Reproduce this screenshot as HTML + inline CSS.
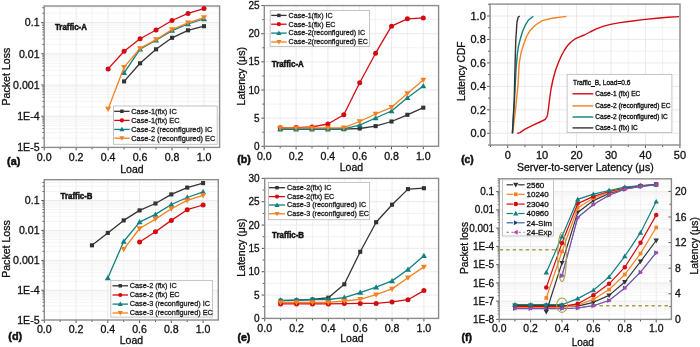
<!DOCTYPE html>
<html><head><meta charset="utf-8"><style>
html,body{margin:0;padding:0;background:#fff;}
svg{display:block;font-family:"Liberation Sans", sans-serif;will-change:transform;}
</style></head><body>
<svg width="700" height="347" viewBox="0 0 700 347">
<rect width="700" height="347" fill="#fff"/>
<line x1="60.18" y1="6.00" x2="60.18" y2="147.40" stroke="#efefef" stroke-width="0.8"/>
<line x1="76.16" y1="6.00" x2="76.16" y2="147.40" stroke="#e4e4e4" stroke-width="0.8"/>
<line x1="92.14" y1="6.00" x2="92.14" y2="147.40" stroke="#efefef" stroke-width="0.8"/>
<line x1="108.12" y1="6.00" x2="108.12" y2="147.40" stroke="#e4e4e4" stroke-width="0.8"/>
<line x1="124.10" y1="6.00" x2="124.10" y2="147.40" stroke="#efefef" stroke-width="0.8"/>
<line x1="140.08" y1="6.00" x2="140.08" y2="147.40" stroke="#e4e4e4" stroke-width="0.8"/>
<line x1="156.06" y1="6.00" x2="156.06" y2="147.40" stroke="#efefef" stroke-width="0.8"/>
<line x1="172.04" y1="6.00" x2="172.04" y2="147.40" stroke="#e4e4e4" stroke-width="0.8"/>
<line x1="188.02" y1="6.00" x2="188.02" y2="147.40" stroke="#efefef" stroke-width="0.8"/>
<line x1="204.00" y1="6.00" x2="204.00" y2="147.40" stroke="#e4e4e4" stroke-width="0.8"/>
<line x1="44.20" y1="138.01" x2="219.60" y2="138.01" stroke="#f1f1f1" stroke-width="0.8"/>
<line x1="44.20" y1="132.51" x2="219.60" y2="132.51" stroke="#f1f1f1" stroke-width="0.8"/>
<line x1="44.20" y1="128.62" x2="219.60" y2="128.62" stroke="#f1f1f1" stroke-width="0.8"/>
<line x1="44.20" y1="125.59" x2="219.60" y2="125.59" stroke="#f1f1f1" stroke-width="0.8"/>
<line x1="44.20" y1="123.12" x2="219.60" y2="123.12" stroke="#f1f1f1" stroke-width="0.8"/>
<line x1="44.20" y1="121.03" x2="219.60" y2="121.03" stroke="#f1f1f1" stroke-width="0.8"/>
<line x1="44.20" y1="119.22" x2="219.60" y2="119.22" stroke="#f1f1f1" stroke-width="0.8"/>
<line x1="44.20" y1="117.63" x2="219.60" y2="117.63" stroke="#f1f1f1" stroke-width="0.8"/>
<line x1="44.20" y1="116.20" x2="219.60" y2="116.20" stroke="#e4e4e4" stroke-width="0.8"/>
<line x1="44.20" y1="106.81" x2="219.60" y2="106.81" stroke="#f1f1f1" stroke-width="0.8"/>
<line x1="44.20" y1="101.31" x2="219.60" y2="101.31" stroke="#f1f1f1" stroke-width="0.8"/>
<line x1="44.20" y1="97.42" x2="219.60" y2="97.42" stroke="#f1f1f1" stroke-width="0.8"/>
<line x1="44.20" y1="94.39" x2="219.60" y2="94.39" stroke="#f1f1f1" stroke-width="0.8"/>
<line x1="44.20" y1="91.92" x2="219.60" y2="91.92" stroke="#f1f1f1" stroke-width="0.8"/>
<line x1="44.20" y1="89.83" x2="219.60" y2="89.83" stroke="#f1f1f1" stroke-width="0.8"/>
<line x1="44.20" y1="88.02" x2="219.60" y2="88.02" stroke="#f1f1f1" stroke-width="0.8"/>
<line x1="44.20" y1="86.43" x2="219.60" y2="86.43" stroke="#f1f1f1" stroke-width="0.8"/>
<line x1="44.20" y1="85.00" x2="219.60" y2="85.00" stroke="#e4e4e4" stroke-width="0.8"/>
<line x1="44.20" y1="75.61" x2="219.60" y2="75.61" stroke="#f1f1f1" stroke-width="0.8"/>
<line x1="44.20" y1="70.11" x2="219.60" y2="70.11" stroke="#f1f1f1" stroke-width="0.8"/>
<line x1="44.20" y1="66.22" x2="219.60" y2="66.22" stroke="#f1f1f1" stroke-width="0.8"/>
<line x1="44.20" y1="63.19" x2="219.60" y2="63.19" stroke="#f1f1f1" stroke-width="0.8"/>
<line x1="44.20" y1="60.72" x2="219.60" y2="60.72" stroke="#f1f1f1" stroke-width="0.8"/>
<line x1="44.20" y1="58.63" x2="219.60" y2="58.63" stroke="#f1f1f1" stroke-width="0.8"/>
<line x1="44.20" y1="56.82" x2="219.60" y2="56.82" stroke="#f1f1f1" stroke-width="0.8"/>
<line x1="44.20" y1="55.23" x2="219.60" y2="55.23" stroke="#f1f1f1" stroke-width="0.8"/>
<line x1="44.20" y1="53.80" x2="219.60" y2="53.80" stroke="#e4e4e4" stroke-width="0.8"/>
<line x1="44.20" y1="44.41" x2="219.60" y2="44.41" stroke="#f1f1f1" stroke-width="0.8"/>
<line x1="44.20" y1="38.91" x2="219.60" y2="38.91" stroke="#f1f1f1" stroke-width="0.8"/>
<line x1="44.20" y1="35.02" x2="219.60" y2="35.02" stroke="#f1f1f1" stroke-width="0.8"/>
<line x1="44.20" y1="31.99" x2="219.60" y2="31.99" stroke="#f1f1f1" stroke-width="0.8"/>
<line x1="44.20" y1="29.52" x2="219.60" y2="29.52" stroke="#f1f1f1" stroke-width="0.8"/>
<line x1="44.20" y1="27.43" x2="219.60" y2="27.43" stroke="#f1f1f1" stroke-width="0.8"/>
<line x1="44.20" y1="25.62" x2="219.60" y2="25.62" stroke="#f1f1f1" stroke-width="0.8"/>
<line x1="44.20" y1="24.03" x2="219.60" y2="24.03" stroke="#f1f1f1" stroke-width="0.8"/>
<line x1="44.20" y1="22.60" x2="219.60" y2="22.60" stroke="#e4e4e4" stroke-width="0.8"/>
<line x1="44.20" y1="13.21" x2="219.60" y2="13.21" stroke="#f1f1f1" stroke-width="0.8"/>
<line x1="44.20" y1="7.71" x2="219.60" y2="7.71" stroke="#f1f1f1" stroke-width="0.8"/>
<line x1="44.20" y1="147.40" x2="44.20" y2="150.40" stroke="#555555" stroke-width="1"/>
<line x1="60.18" y1="147.40" x2="60.18" y2="149.40" stroke="#555555" stroke-width="1"/>
<line x1="76.16" y1="147.40" x2="76.16" y2="150.40" stroke="#555555" stroke-width="1"/>
<line x1="92.14" y1="147.40" x2="92.14" y2="149.40" stroke="#555555" stroke-width="1"/>
<line x1="108.12" y1="147.40" x2="108.12" y2="150.40" stroke="#555555" stroke-width="1"/>
<line x1="124.10" y1="147.40" x2="124.10" y2="149.40" stroke="#555555" stroke-width="1"/>
<line x1="140.08" y1="147.40" x2="140.08" y2="150.40" stroke="#555555" stroke-width="1"/>
<line x1="156.06" y1="147.40" x2="156.06" y2="149.40" stroke="#555555" stroke-width="1"/>
<line x1="172.04" y1="147.40" x2="172.04" y2="150.40" stroke="#555555" stroke-width="1"/>
<line x1="188.02" y1="147.40" x2="188.02" y2="149.40" stroke="#555555" stroke-width="1"/>
<line x1="204.00" y1="147.40" x2="204.00" y2="150.40" stroke="#555555" stroke-width="1"/>
<line x1="41.20" y1="147.40" x2="44.20" y2="147.40" stroke="#555555" stroke-width="1"/>
<line x1="42.40" y1="138.01" x2="44.20" y2="138.01" stroke="#555555" stroke-width="1"/>
<line x1="42.40" y1="132.51" x2="44.20" y2="132.51" stroke="#555555" stroke-width="1"/>
<line x1="42.40" y1="128.62" x2="44.20" y2="128.62" stroke="#555555" stroke-width="1"/>
<line x1="42.40" y1="125.59" x2="44.20" y2="125.59" stroke="#555555" stroke-width="1"/>
<line x1="42.40" y1="123.12" x2="44.20" y2="123.12" stroke="#555555" stroke-width="1"/>
<line x1="42.40" y1="121.03" x2="44.20" y2="121.03" stroke="#555555" stroke-width="1"/>
<line x1="42.40" y1="119.22" x2="44.20" y2="119.22" stroke="#555555" stroke-width="1"/>
<line x1="42.40" y1="117.63" x2="44.20" y2="117.63" stroke="#555555" stroke-width="1"/>
<line x1="41.20" y1="116.20" x2="44.20" y2="116.20" stroke="#555555" stroke-width="1"/>
<line x1="42.40" y1="106.81" x2="44.20" y2="106.81" stroke="#555555" stroke-width="1"/>
<line x1="42.40" y1="101.31" x2="44.20" y2="101.31" stroke="#555555" stroke-width="1"/>
<line x1="42.40" y1="97.42" x2="44.20" y2="97.42" stroke="#555555" stroke-width="1"/>
<line x1="42.40" y1="94.39" x2="44.20" y2="94.39" stroke="#555555" stroke-width="1"/>
<line x1="42.40" y1="91.92" x2="44.20" y2="91.92" stroke="#555555" stroke-width="1"/>
<line x1="42.40" y1="89.83" x2="44.20" y2="89.83" stroke="#555555" stroke-width="1"/>
<line x1="42.40" y1="88.02" x2="44.20" y2="88.02" stroke="#555555" stroke-width="1"/>
<line x1="42.40" y1="86.43" x2="44.20" y2="86.43" stroke="#555555" stroke-width="1"/>
<line x1="41.20" y1="85.00" x2="44.20" y2="85.00" stroke="#555555" stroke-width="1"/>
<line x1="42.40" y1="75.61" x2="44.20" y2="75.61" stroke="#555555" stroke-width="1"/>
<line x1="42.40" y1="70.11" x2="44.20" y2="70.11" stroke="#555555" stroke-width="1"/>
<line x1="42.40" y1="66.22" x2="44.20" y2="66.22" stroke="#555555" stroke-width="1"/>
<line x1="42.40" y1="63.19" x2="44.20" y2="63.19" stroke="#555555" stroke-width="1"/>
<line x1="42.40" y1="60.72" x2="44.20" y2="60.72" stroke="#555555" stroke-width="1"/>
<line x1="42.40" y1="58.63" x2="44.20" y2="58.63" stroke="#555555" stroke-width="1"/>
<line x1="42.40" y1="56.82" x2="44.20" y2="56.82" stroke="#555555" stroke-width="1"/>
<line x1="42.40" y1="55.23" x2="44.20" y2="55.23" stroke="#555555" stroke-width="1"/>
<line x1="41.20" y1="53.80" x2="44.20" y2="53.80" stroke="#555555" stroke-width="1"/>
<line x1="42.40" y1="44.41" x2="44.20" y2="44.41" stroke="#555555" stroke-width="1"/>
<line x1="42.40" y1="38.91" x2="44.20" y2="38.91" stroke="#555555" stroke-width="1"/>
<line x1="42.40" y1="35.02" x2="44.20" y2="35.02" stroke="#555555" stroke-width="1"/>
<line x1="42.40" y1="31.99" x2="44.20" y2="31.99" stroke="#555555" stroke-width="1"/>
<line x1="42.40" y1="29.52" x2="44.20" y2="29.52" stroke="#555555" stroke-width="1"/>
<line x1="42.40" y1="27.43" x2="44.20" y2="27.43" stroke="#555555" stroke-width="1"/>
<line x1="42.40" y1="25.62" x2="44.20" y2="25.62" stroke="#555555" stroke-width="1"/>
<line x1="42.40" y1="24.03" x2="44.20" y2="24.03" stroke="#555555" stroke-width="1"/>
<line x1="41.20" y1="22.60" x2="44.20" y2="22.60" stroke="#555555" stroke-width="1"/>
<line x1="42.40" y1="13.21" x2="44.20" y2="13.21" stroke="#555555" stroke-width="1"/>
<line x1="42.40" y1="7.71" x2="44.20" y2="7.71" stroke="#555555" stroke-width="1"/>
<rect x="44.20" y="6.00" width="175.40" height="141.40" fill="none" stroke="#8c8c8c" stroke-width="1.4"/>
<text x="39.60" y="151.20" font-size="10.6" text-anchor="end" font-weight="normal" fill="#111" stroke="#111" stroke-width="0.3">1E-5</text>
<text x="39.60" y="120.00" font-size="10.6" text-anchor="end" font-weight="normal" fill="#111" stroke="#111" stroke-width="0.3">1E-4</text>
<text x="39.60" y="88.80" font-size="10.6" text-anchor="end" font-weight="normal" fill="#111" stroke="#111" stroke-width="0.3">0.001</text>
<text x="39.60" y="57.60" font-size="10.6" text-anchor="end" font-weight="normal" fill="#111" stroke="#111" stroke-width="0.3">0.01</text>
<text x="39.60" y="26.40" font-size="10.6" text-anchor="end" font-weight="normal" fill="#111" stroke="#111" stroke-width="0.3">0.1</text>
<text x="44.20" y="160.90" font-size="10.6" text-anchor="middle" font-weight="normal" fill="#111" stroke="#111" stroke-width="0.3">0.0</text>
<text x="76.16" y="160.90" font-size="10.6" text-anchor="middle" font-weight="normal" fill="#111" stroke="#111" stroke-width="0.3">0.2</text>
<text x="108.12" y="160.90" font-size="10.6" text-anchor="middle" font-weight="normal" fill="#111" stroke="#111" stroke-width="0.3">0.4</text>
<text x="140.08" y="160.90" font-size="10.6" text-anchor="middle" font-weight="normal" fill="#111" stroke="#111" stroke-width="0.3">0.6</text>
<text x="172.04" y="160.90" font-size="10.6" text-anchor="middle" font-weight="normal" fill="#111" stroke="#111" stroke-width="0.3">0.8</text>
<text x="204.00" y="160.90" font-size="10.6" text-anchor="middle" font-weight="normal" fill="#111" stroke="#111" stroke-width="0.3">1.0</text>
<text x="9.60" y="76.60" font-size="10.6" text-anchor="middle" font-weight="normal" fill="#111" stroke="#111" stroke-width="0.3" transform="rotate(-90 9.6 76.6)">Packet Loss</text>
<text x="131.90" y="172.80" font-size="10.5" text-anchor="middle" font-weight="normal" fill="#111" stroke="#111" stroke-width="0.3">Load</text>
<text x="13.70" y="165.40" font-size="10.8" text-anchor="middle" font-weight="bold" fill="#111" stroke="#111" stroke-width="0.5">(a)</text>
<text x="55.00" y="29.60" font-size="8.9" text-anchor="start" font-weight="bold" fill="#111" stroke="#111" stroke-width="0.5" transform="translate(55.0 29.6) scale(0.885 1) translate(-55.0 -29.6)">Traffic-A</text>
<polyline points="124.10,81.40 140.08,63.30 156.06,49.30 172.04,37.80 188.02,30.30 204.00,26.20" fill="none" stroke="#333333" stroke-width="1.3" stroke-linejoin="round"/>
<rect x="122.05" y="79.35" width="4.10" height="4.10" fill="#333333"/>
<rect x="138.03" y="61.25" width="4.10" height="4.10" fill="#333333"/>
<rect x="154.01" y="47.25" width="4.10" height="4.10" fill="#333333"/>
<rect x="169.99" y="35.75" width="4.10" height="4.10" fill="#333333"/>
<rect x="185.97" y="28.25" width="4.10" height="4.10" fill="#333333"/>
<rect x="201.95" y="24.15" width="4.10" height="4.10" fill="#333333"/>
<polyline points="108.12,68.90 124.10,51.30 140.08,38.80 156.06,30.00 172.04,20.50 188.02,13.40 204.00,8.60" fill="none" stroke="#d40a12" stroke-width="1.3" stroke-linejoin="round"/>
<circle cx="108.12" cy="68.90" r="2.50" fill="#d40a12"/>
<circle cx="124.10" cy="51.30" r="2.50" fill="#d40a12"/>
<circle cx="140.08" cy="38.80" r="2.50" fill="#d40a12"/>
<circle cx="156.06" cy="30.00" r="2.50" fill="#d40a12"/>
<circle cx="172.04" cy="20.50" r="2.50" fill="#d40a12"/>
<circle cx="188.02" cy="13.40" r="2.50" fill="#d40a12"/>
<circle cx="204.00" cy="8.60" r="2.50" fill="#d40a12"/>
<polyline points="124.10,72.80 140.08,49.20 156.06,40.30 172.04,30.60 188.02,24.00 204.00,19.00" fill="none" stroke="#0f7f80" stroke-width="1.3" stroke-linejoin="round"/>
<path d="M124.10 69.80L127.10 75.05L121.10 75.05Z" fill="#0f7f80"/>
<path d="M140.08 46.20L143.08 51.45L137.08 51.45Z" fill="#0f7f80"/>
<path d="M156.06 37.30L159.06 42.55L153.06 42.55Z" fill="#0f7f80"/>
<path d="M172.04 27.60L175.04 32.85L169.04 32.85Z" fill="#0f7f80"/>
<path d="M188.02 21.00L191.02 26.25L185.02 26.25Z" fill="#0f7f80"/>
<path d="M204.00 16.00L207.00 21.25L201.00 21.25Z" fill="#0f7f80"/>
<polyline points="108.12,109.00 124.10,67.20 140.08,48.40 156.06,39.60 172.04,29.50 188.02,22.80 204.00,17.60" fill="none" stroke="#f5801f" stroke-width="1.3" stroke-linejoin="round"/>
<path d="M108.12 112.00L111.12 106.75L105.12 106.75Z" fill="#f5801f"/>
<path d="M124.10 70.20L127.10 64.95L121.10 64.95Z" fill="#f5801f"/>
<path d="M140.08 51.40L143.08 46.15L137.08 46.15Z" fill="#f5801f"/>
<path d="M156.06 42.60L159.06 37.35L153.06 37.35Z" fill="#f5801f"/>
<path d="M172.04 32.50L175.04 27.25L169.04 27.25Z" fill="#f5801f"/>
<path d="M188.02 25.80L191.02 20.55L185.02 20.55Z" fill="#f5801f"/>
<path d="M204.00 20.60L207.00 15.35L201.00 15.35Z" fill="#f5801f"/>
<rect x="113.50" y="106.00" width="103.70" height="38.30" fill="#fff" stroke="#bdbdbd" stroke-width="0.9"/>
<line x1="114.20" y1="111.30" x2="129.60" y2="111.30" stroke="#333333" stroke-width="1.3"/>
<rect x="120.16" y="109.56" width="3.48" height="3.48" fill="#333333"/>
<text x="131.20" y="113.71" font-size="7.844000000000001" text-anchor="start" font-weight="normal" fill="#1a1a1a" stroke="#1a1a1a" stroke-width="0.3" transform="translate(131.2 113.714) scale(0.943 1) translate(-131.2 -113.714)">Case-1(fix) IC</text>
<line x1="114.20" y1="120.40" x2="129.60" y2="120.40" stroke="#d40a12" stroke-width="1.3"/>
<circle cx="121.90" cy="120.40" r="2.12" fill="#d40a12"/>
<text x="131.20" y="122.81" font-size="7.844000000000001" text-anchor="start" font-weight="normal" fill="#1a1a1a" stroke="#1a1a1a" stroke-width="0.3" transform="translate(131.2 122.81400000000001) scale(0.943 1) translate(-131.2 -122.81400000000001)">Case-1(fix) EC</text>
<line x1="114.20" y1="129.40" x2="129.60" y2="129.40" stroke="#0f7f80" stroke-width="1.3"/>
<path d="M121.90 126.85L124.45 131.31L119.35 131.31Z" fill="#0f7f80"/>
<text x="131.20" y="131.81" font-size="7.844000000000001" text-anchor="start" font-weight="normal" fill="#1a1a1a" stroke="#1a1a1a" stroke-width="0.3" transform="translate(131.2 131.814) scale(0.943 1) translate(-131.2 -131.814)">Case-2 (reconfigured) IC</text>
<line x1="114.20" y1="138.20" x2="129.60" y2="138.20" stroke="#f5801f" stroke-width="1.3"/>
<path d="M121.90 140.75L124.45 136.29L119.35 136.29Z" fill="#f5801f"/>
<text x="131.20" y="140.61" font-size="7.844000000000001" text-anchor="start" font-weight="normal" fill="#1a1a1a" stroke="#1a1a1a" stroke-width="0.3" transform="translate(131.2 140.61399999999998) scale(0.943 1) translate(-131.2 -140.61399999999998)">Case-2 (reconfigured) EC</text>
<line x1="60.18" y1="179.70" x2="60.18" y2="320.00" stroke="#efefef" stroke-width="0.8"/>
<line x1="76.06" y1="179.70" x2="76.06" y2="320.00" stroke="#e4e4e4" stroke-width="0.8"/>
<line x1="91.94" y1="179.70" x2="91.94" y2="320.00" stroke="#efefef" stroke-width="0.8"/>
<line x1="107.82" y1="179.70" x2="107.82" y2="320.00" stroke="#e4e4e4" stroke-width="0.8"/>
<line x1="123.70" y1="179.70" x2="123.70" y2="320.00" stroke="#efefef" stroke-width="0.8"/>
<line x1="139.58" y1="179.70" x2="139.58" y2="320.00" stroke="#e4e4e4" stroke-width="0.8"/>
<line x1="155.46" y1="179.70" x2="155.46" y2="320.00" stroke="#efefef" stroke-width="0.8"/>
<line x1="171.34" y1="179.70" x2="171.34" y2="320.00" stroke="#e4e4e4" stroke-width="0.8"/>
<line x1="187.22" y1="179.70" x2="187.22" y2="320.00" stroke="#efefef" stroke-width="0.8"/>
<line x1="203.10" y1="179.70" x2="203.10" y2="320.00" stroke="#e4e4e4" stroke-width="0.8"/>
<line x1="44.30" y1="311.21" x2="218.30" y2="311.21" stroke="#f1f1f1" stroke-width="0.8"/>
<line x1="44.30" y1="305.94" x2="218.30" y2="305.94" stroke="#f1f1f1" stroke-width="0.8"/>
<line x1="44.30" y1="302.20" x2="218.30" y2="302.20" stroke="#f1f1f1" stroke-width="0.8"/>
<line x1="44.30" y1="299.30" x2="218.30" y2="299.30" stroke="#f1f1f1" stroke-width="0.8"/>
<line x1="44.30" y1="296.93" x2="218.30" y2="296.93" stroke="#f1f1f1" stroke-width="0.8"/>
<line x1="44.30" y1="294.93" x2="218.30" y2="294.93" stroke="#f1f1f1" stroke-width="0.8"/>
<line x1="44.30" y1="293.19" x2="218.30" y2="293.19" stroke="#f1f1f1" stroke-width="0.8"/>
<line x1="44.30" y1="291.66" x2="218.30" y2="291.66" stroke="#f1f1f1" stroke-width="0.8"/>
<line x1="44.30" y1="290.29" x2="218.30" y2="290.29" stroke="#e4e4e4" stroke-width="0.8"/>
<line x1="44.30" y1="281.28" x2="218.30" y2="281.28" stroke="#f1f1f1" stroke-width="0.8"/>
<line x1="44.30" y1="276.01" x2="218.30" y2="276.01" stroke="#f1f1f1" stroke-width="0.8"/>
<line x1="44.30" y1="272.27" x2="218.30" y2="272.27" stroke="#f1f1f1" stroke-width="0.8"/>
<line x1="44.30" y1="269.37" x2="218.30" y2="269.37" stroke="#f1f1f1" stroke-width="0.8"/>
<line x1="44.30" y1="267.00" x2="218.30" y2="267.00" stroke="#f1f1f1" stroke-width="0.8"/>
<line x1="44.30" y1="265.00" x2="218.30" y2="265.00" stroke="#f1f1f1" stroke-width="0.8"/>
<line x1="44.30" y1="263.26" x2="218.30" y2="263.26" stroke="#f1f1f1" stroke-width="0.8"/>
<line x1="44.30" y1="261.73" x2="218.30" y2="261.73" stroke="#f1f1f1" stroke-width="0.8"/>
<line x1="44.30" y1="260.36" x2="218.30" y2="260.36" stroke="#e4e4e4" stroke-width="0.8"/>
<line x1="44.30" y1="251.35" x2="218.30" y2="251.35" stroke="#f1f1f1" stroke-width="0.8"/>
<line x1="44.30" y1="246.08" x2="218.30" y2="246.08" stroke="#f1f1f1" stroke-width="0.8"/>
<line x1="44.30" y1="242.34" x2="218.30" y2="242.34" stroke="#f1f1f1" stroke-width="0.8"/>
<line x1="44.30" y1="239.44" x2="218.30" y2="239.44" stroke="#f1f1f1" stroke-width="0.8"/>
<line x1="44.30" y1="237.07" x2="218.30" y2="237.07" stroke="#f1f1f1" stroke-width="0.8"/>
<line x1="44.30" y1="235.07" x2="218.30" y2="235.07" stroke="#f1f1f1" stroke-width="0.8"/>
<line x1="44.30" y1="233.33" x2="218.30" y2="233.33" stroke="#f1f1f1" stroke-width="0.8"/>
<line x1="44.30" y1="231.80" x2="218.30" y2="231.80" stroke="#f1f1f1" stroke-width="0.8"/>
<line x1="44.30" y1="230.43" x2="218.30" y2="230.43" stroke="#e4e4e4" stroke-width="0.8"/>
<line x1="44.30" y1="221.42" x2="218.30" y2="221.42" stroke="#f1f1f1" stroke-width="0.8"/>
<line x1="44.30" y1="216.15" x2="218.30" y2="216.15" stroke="#f1f1f1" stroke-width="0.8"/>
<line x1="44.30" y1="212.41" x2="218.30" y2="212.41" stroke="#f1f1f1" stroke-width="0.8"/>
<line x1="44.30" y1="209.51" x2="218.30" y2="209.51" stroke="#f1f1f1" stroke-width="0.8"/>
<line x1="44.30" y1="207.14" x2="218.30" y2="207.14" stroke="#f1f1f1" stroke-width="0.8"/>
<line x1="44.30" y1="205.14" x2="218.30" y2="205.14" stroke="#f1f1f1" stroke-width="0.8"/>
<line x1="44.30" y1="203.40" x2="218.30" y2="203.40" stroke="#f1f1f1" stroke-width="0.8"/>
<line x1="44.30" y1="201.87" x2="218.30" y2="201.87" stroke="#f1f1f1" stroke-width="0.8"/>
<line x1="44.30" y1="200.50" x2="218.30" y2="200.50" stroke="#e4e4e4" stroke-width="0.8"/>
<line x1="44.30" y1="191.49" x2="218.30" y2="191.49" stroke="#f1f1f1" stroke-width="0.8"/>
<line x1="44.30" y1="186.22" x2="218.30" y2="186.22" stroke="#f1f1f1" stroke-width="0.8"/>
<line x1="44.30" y1="182.48" x2="218.30" y2="182.48" stroke="#f1f1f1" stroke-width="0.8"/>
<line x1="44.30" y1="320.00" x2="44.30" y2="323.00" stroke="#555555" stroke-width="1"/>
<line x1="60.18" y1="320.00" x2="60.18" y2="322.00" stroke="#555555" stroke-width="1"/>
<line x1="76.06" y1="320.00" x2="76.06" y2="323.00" stroke="#555555" stroke-width="1"/>
<line x1="91.94" y1="320.00" x2="91.94" y2="322.00" stroke="#555555" stroke-width="1"/>
<line x1="107.82" y1="320.00" x2="107.82" y2="323.00" stroke="#555555" stroke-width="1"/>
<line x1="123.70" y1="320.00" x2="123.70" y2="322.00" stroke="#555555" stroke-width="1"/>
<line x1="139.58" y1="320.00" x2="139.58" y2="323.00" stroke="#555555" stroke-width="1"/>
<line x1="155.46" y1="320.00" x2="155.46" y2="322.00" stroke="#555555" stroke-width="1"/>
<line x1="171.34" y1="320.00" x2="171.34" y2="323.00" stroke="#555555" stroke-width="1"/>
<line x1="187.22" y1="320.00" x2="187.22" y2="322.00" stroke="#555555" stroke-width="1"/>
<line x1="203.10" y1="320.00" x2="203.10" y2="323.00" stroke="#555555" stroke-width="1"/>
<line x1="41.30" y1="320.22" x2="44.30" y2="320.22" stroke="#555555" stroke-width="1"/>
<line x1="42.50" y1="311.21" x2="44.30" y2="311.21" stroke="#555555" stroke-width="1"/>
<line x1="42.50" y1="305.94" x2="44.30" y2="305.94" stroke="#555555" stroke-width="1"/>
<line x1="42.50" y1="302.20" x2="44.30" y2="302.20" stroke="#555555" stroke-width="1"/>
<line x1="42.50" y1="299.30" x2="44.30" y2="299.30" stroke="#555555" stroke-width="1"/>
<line x1="42.50" y1="296.93" x2="44.30" y2="296.93" stroke="#555555" stroke-width="1"/>
<line x1="42.50" y1="294.93" x2="44.30" y2="294.93" stroke="#555555" stroke-width="1"/>
<line x1="42.50" y1="293.19" x2="44.30" y2="293.19" stroke="#555555" stroke-width="1"/>
<line x1="42.50" y1="291.66" x2="44.30" y2="291.66" stroke="#555555" stroke-width="1"/>
<line x1="41.30" y1="290.29" x2="44.30" y2="290.29" stroke="#555555" stroke-width="1"/>
<line x1="42.50" y1="281.28" x2="44.30" y2="281.28" stroke="#555555" stroke-width="1"/>
<line x1="42.50" y1="276.01" x2="44.30" y2="276.01" stroke="#555555" stroke-width="1"/>
<line x1="42.50" y1="272.27" x2="44.30" y2="272.27" stroke="#555555" stroke-width="1"/>
<line x1="42.50" y1="269.37" x2="44.30" y2="269.37" stroke="#555555" stroke-width="1"/>
<line x1="42.50" y1="267.00" x2="44.30" y2="267.00" stroke="#555555" stroke-width="1"/>
<line x1="42.50" y1="265.00" x2="44.30" y2="265.00" stroke="#555555" stroke-width="1"/>
<line x1="42.50" y1="263.26" x2="44.30" y2="263.26" stroke="#555555" stroke-width="1"/>
<line x1="42.50" y1="261.73" x2="44.30" y2="261.73" stroke="#555555" stroke-width="1"/>
<line x1="41.30" y1="260.36" x2="44.30" y2="260.36" stroke="#555555" stroke-width="1"/>
<line x1="42.50" y1="251.35" x2="44.30" y2="251.35" stroke="#555555" stroke-width="1"/>
<line x1="42.50" y1="246.08" x2="44.30" y2="246.08" stroke="#555555" stroke-width="1"/>
<line x1="42.50" y1="242.34" x2="44.30" y2="242.34" stroke="#555555" stroke-width="1"/>
<line x1="42.50" y1="239.44" x2="44.30" y2="239.44" stroke="#555555" stroke-width="1"/>
<line x1="42.50" y1="237.07" x2="44.30" y2="237.07" stroke="#555555" stroke-width="1"/>
<line x1="42.50" y1="235.07" x2="44.30" y2="235.07" stroke="#555555" stroke-width="1"/>
<line x1="42.50" y1="233.33" x2="44.30" y2="233.33" stroke="#555555" stroke-width="1"/>
<line x1="42.50" y1="231.80" x2="44.30" y2="231.80" stroke="#555555" stroke-width="1"/>
<line x1="41.30" y1="230.43" x2="44.30" y2="230.43" stroke="#555555" stroke-width="1"/>
<line x1="42.50" y1="221.42" x2="44.30" y2="221.42" stroke="#555555" stroke-width="1"/>
<line x1="42.50" y1="216.15" x2="44.30" y2="216.15" stroke="#555555" stroke-width="1"/>
<line x1="42.50" y1="212.41" x2="44.30" y2="212.41" stroke="#555555" stroke-width="1"/>
<line x1="42.50" y1="209.51" x2="44.30" y2="209.51" stroke="#555555" stroke-width="1"/>
<line x1="42.50" y1="207.14" x2="44.30" y2="207.14" stroke="#555555" stroke-width="1"/>
<line x1="42.50" y1="205.14" x2="44.30" y2="205.14" stroke="#555555" stroke-width="1"/>
<line x1="42.50" y1="203.40" x2="44.30" y2="203.40" stroke="#555555" stroke-width="1"/>
<line x1="42.50" y1="201.87" x2="44.30" y2="201.87" stroke="#555555" stroke-width="1"/>
<line x1="41.30" y1="200.50" x2="44.30" y2="200.50" stroke="#555555" stroke-width="1"/>
<line x1="42.50" y1="191.49" x2="44.30" y2="191.49" stroke="#555555" stroke-width="1"/>
<line x1="42.50" y1="186.22" x2="44.30" y2="186.22" stroke="#555555" stroke-width="1"/>
<line x1="42.50" y1="182.48" x2="44.30" y2="182.48" stroke="#555555" stroke-width="1"/>
<rect x="44.30" y="179.70" width="174.00" height="140.30" fill="none" stroke="#8c8c8c" stroke-width="1.4"/>
<text x="39.60" y="324.02" font-size="10.6" text-anchor="end" font-weight="normal" fill="#111" stroke="#111" stroke-width="0.3">1E-5</text>
<text x="39.60" y="294.09" font-size="10.6" text-anchor="end" font-weight="normal" fill="#111" stroke="#111" stroke-width="0.3">1E-4</text>
<text x="39.60" y="264.16" font-size="10.6" text-anchor="end" font-weight="normal" fill="#111" stroke="#111" stroke-width="0.3">0.001</text>
<text x="39.60" y="234.23" font-size="10.6" text-anchor="end" font-weight="normal" fill="#111" stroke="#111" stroke-width="0.3">0.01</text>
<text x="39.60" y="204.30" font-size="10.6" text-anchor="end" font-weight="normal" fill="#111" stroke="#111" stroke-width="0.3">0.1</text>
<text x="44.30" y="332.90" font-size="10.6" text-anchor="middle" font-weight="normal" fill="#111" stroke="#111" stroke-width="0.3">0.0</text>
<text x="76.06" y="332.90" font-size="10.6" text-anchor="middle" font-weight="normal" fill="#111" stroke="#111" stroke-width="0.3">0.2</text>
<text x="107.82" y="332.90" font-size="10.6" text-anchor="middle" font-weight="normal" fill="#111" stroke="#111" stroke-width="0.3">0.4</text>
<text x="139.58" y="332.90" font-size="10.6" text-anchor="middle" font-weight="normal" fill="#111" stroke="#111" stroke-width="0.3">0.6</text>
<text x="171.34" y="332.90" font-size="10.6" text-anchor="middle" font-weight="normal" fill="#111" stroke="#111" stroke-width="0.3">0.8</text>
<text x="203.10" y="332.90" font-size="10.6" text-anchor="middle" font-weight="normal" fill="#111" stroke="#111" stroke-width="0.3">1.0</text>
<text x="9.60" y="249.00" font-size="10.6" text-anchor="middle" font-weight="normal" fill="#111" stroke="#111" stroke-width="0.3" transform="rotate(-90 9.6 249.0)">Packet Loss</text>
<text x="131.40" y="344.40" font-size="10.5" text-anchor="middle" font-weight="normal" fill="#111" stroke="#111" stroke-width="0.3">Load</text>
<text x="15.30" y="340.10" font-size="11.6" text-anchor="middle" font-weight="bold" fill="#111" stroke="#111" stroke-width="0.5" transform="translate(15.3 340.1) scale(0.94 1) translate(-15.3 -340.1)">(d)</text>
<text x="60.60" y="198.70" font-size="8.9" text-anchor="start" font-weight="bold" fill="#111" stroke="#111" stroke-width="0.5" transform="translate(60.6 198.7) scale(0.885 1) translate(-60.6 -198.7)">Traffic-B</text>
<polyline points="91.94,245.30 107.82,232.90 123.70,220.40 139.58,210.40 155.46,203.50 171.34,194.40 187.22,187.60 203.10,183.10" fill="none" stroke="#333333" stroke-width="1.3" stroke-linejoin="round"/>
<rect x="89.89" y="243.25" width="4.10" height="4.10" fill="#333333"/>
<rect x="105.77" y="230.85" width="4.10" height="4.10" fill="#333333"/>
<rect x="121.65" y="218.35" width="4.10" height="4.10" fill="#333333"/>
<rect x="137.53" y="208.35" width="4.10" height="4.10" fill="#333333"/>
<rect x="153.41" y="201.45" width="4.10" height="4.10" fill="#333333"/>
<rect x="169.29" y="192.35" width="4.10" height="4.10" fill="#333333"/>
<rect x="185.17" y="185.55" width="4.10" height="4.10" fill="#333333"/>
<rect x="201.05" y="181.05" width="4.10" height="4.10" fill="#333333"/>
<polyline points="139.58,242.00 155.46,231.80 171.34,220.40 187.22,209.70 203.10,205.00" fill="none" stroke="#d40a12" stroke-width="1.3" stroke-linejoin="round"/>
<circle cx="139.58" cy="242.00" r="2.50" fill="#d40a12"/>
<circle cx="155.46" cy="231.80" r="2.50" fill="#d40a12"/>
<circle cx="171.34" cy="220.40" r="2.50" fill="#d40a12"/>
<circle cx="187.22" cy="209.70" r="2.50" fill="#d40a12"/>
<circle cx="203.10" cy="205.00" r="2.50" fill="#d40a12"/>
<polyline points="107.82,277.90 123.70,241.50 139.58,222.10 155.46,214.40 171.34,204.50 187.22,197.50 203.10,191.90" fill="none" stroke="#0f7f80" stroke-width="1.3" stroke-linejoin="round"/>
<path d="M107.82 274.90L110.82 280.15L104.82 280.15Z" fill="#0f7f80"/>
<path d="M123.70 238.50L126.70 243.75L120.70 243.75Z" fill="#0f7f80"/>
<path d="M139.58 219.10L142.58 224.35L136.58 224.35Z" fill="#0f7f80"/>
<path d="M155.46 211.40L158.46 216.65L152.46 216.65Z" fill="#0f7f80"/>
<path d="M171.34 201.50L174.34 206.75L168.34 206.75Z" fill="#0f7f80"/>
<path d="M187.22 194.50L190.22 199.75L184.22 199.75Z" fill="#0f7f80"/>
<path d="M203.10 188.90L206.10 194.15L200.10 194.15Z" fill="#0f7f80"/>
<polyline points="123.70,249.30 139.58,228.50 155.46,219.10 171.34,208.80 187.22,200.40 203.10,195.30" fill="none" stroke="#f5801f" stroke-width="1.3" stroke-linejoin="round"/>
<path d="M123.70 252.30L126.70 247.05L120.70 247.05Z" fill="#f5801f"/>
<path d="M139.58 231.50L142.58 226.25L136.58 226.25Z" fill="#f5801f"/>
<path d="M155.46 222.10L158.46 216.85L152.46 216.85Z" fill="#f5801f"/>
<path d="M171.34 211.80L174.34 206.55L168.34 206.55Z" fill="#f5801f"/>
<path d="M187.22 203.40L190.22 198.15L184.22 198.15Z" fill="#f5801f"/>
<path d="M203.10 198.30L206.10 193.05L200.10 193.05Z" fill="#f5801f"/>
<rect x="110.80" y="280.40" width="101.60" height="36.70" fill="#fff" stroke="#bdbdbd" stroke-width="0.9"/>
<line x1="112.50" y1="285.80" x2="128.00" y2="285.80" stroke="#333333" stroke-width="1.3"/>
<rect x="118.51" y="284.06" width="3.48" height="3.48" fill="#333333"/>
<text x="129.70" y="288.18" font-size="7.738" text-anchor="start" font-weight="normal" fill="#1a1a1a" stroke="#1a1a1a" stroke-width="0.3" transform="translate(129.7 288.178) scale(0.943 1) translate(-129.7 -288.178)">Case-2 (fix) IC</text>
<line x1="112.50" y1="295.00" x2="128.00" y2="295.00" stroke="#d40a12" stroke-width="1.3"/>
<circle cx="120.25" cy="295.00" r="2.12" fill="#d40a12"/>
<text x="129.70" y="297.38" font-size="7.738" text-anchor="start" font-weight="normal" fill="#1a1a1a" stroke="#1a1a1a" stroke-width="0.3" transform="translate(129.7 297.378) scale(0.943 1) translate(-129.7 -297.378)">Case-2 (fix) EC</text>
<line x1="112.50" y1="304.10" x2="128.00" y2="304.10" stroke="#0f7f80" stroke-width="1.3"/>
<path d="M120.25 301.55L122.80 306.01L117.70 306.01Z" fill="#0f7f80"/>
<text x="129.70" y="306.48" font-size="7.738" text-anchor="start" font-weight="normal" fill="#1a1a1a" stroke="#1a1a1a" stroke-width="0.3" transform="translate(129.7 306.478) scale(0.943 1) translate(-129.7 -306.478)">Case-3 (reconfigured) IC</text>
<line x1="112.50" y1="313.00" x2="128.00" y2="313.00" stroke="#f5801f" stroke-width="1.3"/>
<path d="M120.25 315.55L122.80 311.09L117.70 311.09Z" fill="#f5801f"/>
<text x="129.70" y="315.38" font-size="7.738" text-anchor="start" font-weight="normal" fill="#1a1a1a" stroke="#1a1a1a" stroke-width="0.3" transform="translate(129.7 315.378) scale(0.943 1) translate(-129.7 -315.378)">Case-3 (reconfigured) EC</text>
<line x1="280.20" y1="5.60" x2="280.20" y2="146.30" stroke="#efefef" stroke-width="0.8"/>
<line x1="296.10" y1="5.60" x2="296.10" y2="146.30" stroke="#e4e4e4" stroke-width="0.8"/>
<line x1="312.00" y1="5.60" x2="312.00" y2="146.30" stroke="#efefef" stroke-width="0.8"/>
<line x1="327.90" y1="5.60" x2="327.90" y2="146.30" stroke="#e4e4e4" stroke-width="0.8"/>
<line x1="343.80" y1="5.60" x2="343.80" y2="146.30" stroke="#efefef" stroke-width="0.8"/>
<line x1="359.70" y1="5.60" x2="359.70" y2="146.30" stroke="#e4e4e4" stroke-width="0.8"/>
<line x1="375.60" y1="5.60" x2="375.60" y2="146.30" stroke="#efefef" stroke-width="0.8"/>
<line x1="391.50" y1="5.60" x2="391.50" y2="146.30" stroke="#e4e4e4" stroke-width="0.8"/>
<line x1="407.40" y1="5.60" x2="407.40" y2="146.30" stroke="#efefef" stroke-width="0.8"/>
<line x1="423.30" y1="5.60" x2="423.30" y2="146.30" stroke="#e4e4e4" stroke-width="0.8"/>
<line x1="264.30" y1="132.23" x2="438.60" y2="132.23" stroke="#efefef" stroke-width="0.8"/>
<line x1="264.30" y1="118.16" x2="438.60" y2="118.16" stroke="#e4e4e4" stroke-width="0.8"/>
<line x1="264.30" y1="104.09" x2="438.60" y2="104.09" stroke="#efefef" stroke-width="0.8"/>
<line x1="264.30" y1="90.02" x2="438.60" y2="90.02" stroke="#e4e4e4" stroke-width="0.8"/>
<line x1="264.30" y1="75.95" x2="438.60" y2="75.95" stroke="#efefef" stroke-width="0.8"/>
<line x1="264.30" y1="61.88" x2="438.60" y2="61.88" stroke="#e4e4e4" stroke-width="0.8"/>
<line x1="264.30" y1="47.81" x2="438.60" y2="47.81" stroke="#efefef" stroke-width="0.8"/>
<line x1="264.30" y1="33.74" x2="438.60" y2="33.74" stroke="#e4e4e4" stroke-width="0.8"/>
<line x1="264.30" y1="19.67" x2="438.60" y2="19.67" stroke="#efefef" stroke-width="0.8"/>
<line x1="264.30" y1="146.30" x2="264.30" y2="149.30" stroke="#555555" stroke-width="1"/>
<line x1="280.20" y1="146.30" x2="280.20" y2="148.30" stroke="#555555" stroke-width="1"/>
<line x1="296.10" y1="146.30" x2="296.10" y2="149.30" stroke="#555555" stroke-width="1"/>
<line x1="312.00" y1="146.30" x2="312.00" y2="148.30" stroke="#555555" stroke-width="1"/>
<line x1="327.90" y1="146.30" x2="327.90" y2="149.30" stroke="#555555" stroke-width="1"/>
<line x1="343.80" y1="146.30" x2="343.80" y2="148.30" stroke="#555555" stroke-width="1"/>
<line x1="359.70" y1="146.30" x2="359.70" y2="149.30" stroke="#555555" stroke-width="1"/>
<line x1="375.60" y1="146.30" x2="375.60" y2="148.30" stroke="#555555" stroke-width="1"/>
<line x1="391.50" y1="146.30" x2="391.50" y2="149.30" stroke="#555555" stroke-width="1"/>
<line x1="407.40" y1="146.30" x2="407.40" y2="148.30" stroke="#555555" stroke-width="1"/>
<line x1="423.30" y1="146.30" x2="423.30" y2="149.30" stroke="#555555" stroke-width="1"/>
<line x1="261.30" y1="146.30" x2="264.30" y2="146.30" stroke="#555555" stroke-width="1"/>
<text x="259.60" y="149.90" font-size="10" text-anchor="end" font-weight="normal" fill="#111" stroke="#111" stroke-width="0.3">0</text>
<line x1="262.30" y1="132.23" x2="264.30" y2="132.23" stroke="#555555" stroke-width="1"/>
<line x1="261.30" y1="118.16" x2="264.30" y2="118.16" stroke="#555555" stroke-width="1"/>
<text x="259.60" y="121.76" font-size="10" text-anchor="end" font-weight="normal" fill="#111" stroke="#111" stroke-width="0.3">5</text>
<line x1="262.30" y1="104.09" x2="264.30" y2="104.09" stroke="#555555" stroke-width="1"/>
<line x1="261.30" y1="90.02" x2="264.30" y2="90.02" stroke="#555555" stroke-width="1"/>
<text x="259.60" y="93.62" font-size="10" text-anchor="end" font-weight="normal" fill="#111" stroke="#111" stroke-width="0.3">10</text>
<line x1="262.30" y1="75.95" x2="264.30" y2="75.95" stroke="#555555" stroke-width="1"/>
<line x1="261.30" y1="61.88" x2="264.30" y2="61.88" stroke="#555555" stroke-width="1"/>
<text x="259.60" y="65.48" font-size="10" text-anchor="end" font-weight="normal" fill="#111" stroke="#111" stroke-width="0.3">15</text>
<line x1="262.30" y1="47.81" x2="264.30" y2="47.81" stroke="#555555" stroke-width="1"/>
<line x1="261.30" y1="33.74" x2="264.30" y2="33.74" stroke="#555555" stroke-width="1"/>
<text x="259.60" y="37.34" font-size="10" text-anchor="end" font-weight="normal" fill="#111" stroke="#111" stroke-width="0.3">20</text>
<line x1="262.30" y1="19.67" x2="264.30" y2="19.67" stroke="#555555" stroke-width="1"/>
<line x1="261.30" y1="5.60" x2="264.30" y2="5.60" stroke="#555555" stroke-width="1"/>
<text x="259.60" y="9.20" font-size="10" text-anchor="end" font-weight="normal" fill="#111" stroke="#111" stroke-width="0.3">25</text>
<rect x="264.30" y="5.60" width="174.30" height="140.70" fill="none" stroke="#8c8c8c" stroke-width="1.4"/>
<text x="264.30" y="159.90" font-size="10.6" text-anchor="middle" font-weight="normal" fill="#111" stroke="#111" stroke-width="0.3">0.0</text>
<text x="296.10" y="159.90" font-size="10.6" text-anchor="middle" font-weight="normal" fill="#111" stroke="#111" stroke-width="0.3">0.2</text>
<text x="327.90" y="159.90" font-size="10.6" text-anchor="middle" font-weight="normal" fill="#111" stroke="#111" stroke-width="0.3">0.4</text>
<text x="359.70" y="159.90" font-size="10.6" text-anchor="middle" font-weight="normal" fill="#111" stroke="#111" stroke-width="0.3">0.6</text>
<text x="391.50" y="159.90" font-size="10.6" text-anchor="middle" font-weight="normal" fill="#111" stroke="#111" stroke-width="0.3">0.8</text>
<text x="423.30" y="159.90" font-size="10.6" text-anchor="middle" font-weight="normal" fill="#111" stroke="#111" stroke-width="0.3">1.0</text>
<text x="245.40" y="76.20" font-size="10.6" text-anchor="middle" font-weight="normal" fill="#111" stroke="#111" stroke-width="0.3" transform="rotate(-90 245.4 76.2)">Latency (μs)</text>
<text x="351.40" y="171.10" font-size="10.5" text-anchor="middle" font-weight="normal" fill="#111" stroke="#111" stroke-width="0.3">Load</text>
<text x="244.10" y="163.20" font-size="10.6" text-anchor="middle" font-weight="bold" fill="#111" stroke="#111" stroke-width="0.5">(b)</text>
<text x="271.80" y="66.60" font-size="8.9" text-anchor="start" font-weight="bold" fill="#111" stroke="#111" stroke-width="0.5" transform="translate(271.8 66.6) scale(0.885 1) translate(-271.8 -66.6)">Traffic-A</text>
<polyline points="280.20,129.20 296.10,129.20 312.00,129.20 327.90,129.20 343.80,129.20 359.70,128.50 375.60,126.10 391.50,121.50 407.40,114.80 423.30,107.70" fill="none" stroke="#333333" stroke-width="1.3" stroke-linejoin="round"/>
<rect x="278.15" y="127.15" width="4.10" height="4.10" fill="#333333"/>
<rect x="294.05" y="127.15" width="4.10" height="4.10" fill="#333333"/>
<rect x="309.95" y="127.15" width="4.10" height="4.10" fill="#333333"/>
<rect x="325.85" y="127.15" width="4.10" height="4.10" fill="#333333"/>
<rect x="341.75" y="127.15" width="4.10" height="4.10" fill="#333333"/>
<rect x="357.65" y="126.45" width="4.10" height="4.10" fill="#333333"/>
<rect x="373.55" y="124.05" width="4.10" height="4.10" fill="#333333"/>
<rect x="389.45" y="119.45" width="4.10" height="4.10" fill="#333333"/>
<rect x="405.35" y="112.75" width="4.10" height="4.10" fill="#333333"/>
<rect x="421.25" y="105.65" width="4.10" height="4.10" fill="#333333"/>
<polyline points="280.20,127.80 296.10,127.60 312.00,126.90 327.90,124.00 343.80,114.70 359.70,82.70 375.60,53.20 391.50,26.20 407.40,18.80 423.30,17.90" fill="none" stroke="#d40a12" stroke-width="1.3" stroke-linejoin="round"/>
<circle cx="280.20" cy="127.80" r="2.50" fill="#d40a12"/>
<circle cx="296.10" cy="127.60" r="2.50" fill="#d40a12"/>
<circle cx="312.00" cy="126.90" r="2.50" fill="#d40a12"/>
<circle cx="327.90" cy="124.00" r="2.50" fill="#d40a12"/>
<circle cx="343.80" cy="114.70" r="2.50" fill="#d40a12"/>
<circle cx="359.70" cy="82.70" r="2.50" fill="#d40a12"/>
<circle cx="375.60" cy="53.20" r="2.50" fill="#d40a12"/>
<circle cx="391.50" cy="26.20" r="2.50" fill="#d40a12"/>
<circle cx="407.40" cy="18.80" r="2.50" fill="#d40a12"/>
<circle cx="423.30" cy="17.90" r="2.50" fill="#d40a12"/>
<polyline points="280.20,129.00 296.10,129.00 312.00,129.00 327.90,129.00 343.80,128.80 359.70,125.10 375.60,118.00 391.50,111.00 407.40,97.80 423.30,86.10" fill="none" stroke="#0f7f80" stroke-width="1.3" stroke-linejoin="round"/>
<path d="M280.20 126.00L283.20 131.25L277.20 131.25Z" fill="#0f7f80"/>
<path d="M296.10 126.00L299.10 131.25L293.10 131.25Z" fill="#0f7f80"/>
<path d="M312.00 126.00L315.00 131.25L309.00 131.25Z" fill="#0f7f80"/>
<path d="M327.90 126.00L330.90 131.25L324.90 131.25Z" fill="#0f7f80"/>
<path d="M343.80 125.80L346.80 131.05L340.80 131.05Z" fill="#0f7f80"/>
<path d="M359.70 122.10L362.70 127.35L356.70 127.35Z" fill="#0f7f80"/>
<path d="M375.60 115.00L378.60 120.25L372.60 120.25Z" fill="#0f7f80"/>
<path d="M391.50 108.00L394.50 113.25L388.50 113.25Z" fill="#0f7f80"/>
<path d="M407.40 94.80L410.40 100.05L404.40 100.05Z" fill="#0f7f80"/>
<path d="M423.30 83.10L426.30 88.35L420.30 88.35Z" fill="#0f7f80"/>
<polyline points="280.20,127.90 296.10,127.90 312.00,127.90 327.90,127.90 343.80,127.70 359.70,121.50 375.60,114.00 391.50,107.30 407.40,93.60 423.30,80.10" fill="none" stroke="#f5801f" stroke-width="1.3" stroke-linejoin="round"/>
<path d="M280.20 130.90L283.20 125.65L277.20 125.65Z" fill="#f5801f"/>
<path d="M296.10 130.90L299.10 125.65L293.10 125.65Z" fill="#f5801f"/>
<path d="M312.00 130.90L315.00 125.65L309.00 125.65Z" fill="#f5801f"/>
<path d="M327.90 130.90L330.90 125.65L324.90 125.65Z" fill="#f5801f"/>
<path d="M343.80 130.70L346.80 125.45L340.80 125.45Z" fill="#f5801f"/>
<path d="M359.70 124.50L362.70 119.25L356.70 119.25Z" fill="#f5801f"/>
<path d="M375.60 117.00L378.60 111.75L372.60 111.75Z" fill="#f5801f"/>
<path d="M391.50 110.30L394.50 105.05L388.50 105.05Z" fill="#f5801f"/>
<path d="M407.40 96.60L410.40 91.35L404.40 91.35Z" fill="#f5801f"/>
<path d="M423.30 83.10L426.30 77.85L420.30 77.85Z" fill="#f5801f"/>
<rect x="270.20" y="10.40" width="99.40" height="36.00" fill="#fff" stroke="#bdbdbd" stroke-width="0.9"/>
<line x1="271.20" y1="15.40" x2="286.60" y2="15.40" stroke="#333333" stroke-width="1.3"/>
<rect x="277.16" y="13.66" width="3.48" height="3.48" fill="#333333"/>
<text x="288.60" y="17.72" font-size="7.579000000000001" text-anchor="start" font-weight="normal" fill="#1a1a1a" stroke="#1a1a1a" stroke-width="0.3" transform="translate(288.6 17.724) scale(0.943 1) translate(-288.6 -17.724)">Case-1(fix) IC</text>
<line x1="271.20" y1="24.20" x2="286.60" y2="24.20" stroke="#d40a12" stroke-width="1.3"/>
<circle cx="278.90" cy="24.20" r="2.12" fill="#d40a12"/>
<text x="288.60" y="26.52" font-size="7.579000000000001" text-anchor="start" font-weight="normal" fill="#1a1a1a" stroke="#1a1a1a" stroke-width="0.3" transform="translate(288.6 26.524) scale(0.943 1) translate(-288.6 -26.524)">Case-1(fix) EC</text>
<line x1="271.20" y1="33.10" x2="286.60" y2="33.10" stroke="#0f7f80" stroke-width="1.3"/>
<path d="M278.90 30.55L281.45 35.01L276.35 35.01Z" fill="#0f7f80"/>
<text x="288.60" y="35.42" font-size="7.579000000000001" text-anchor="start" font-weight="normal" fill="#1a1a1a" stroke="#1a1a1a" stroke-width="0.3" transform="translate(288.6 35.424) scale(0.943 1) translate(-288.6 -35.424)">Case-2(reconfigured) IC</text>
<line x1="271.20" y1="42.00" x2="286.60" y2="42.00" stroke="#f5801f" stroke-width="1.3"/>
<path d="M278.90 44.55L281.45 40.09L276.35 40.09Z" fill="#f5801f"/>
<text x="288.60" y="44.32" font-size="7.579000000000001" text-anchor="start" font-weight="normal" fill="#1a1a1a" stroke="#1a1a1a" stroke-width="0.3" transform="translate(288.6 44.324) scale(0.943 1) translate(-288.6 -44.324)">Case-2(reconfigured) EC</text>
<line x1="280.62" y1="178.40" x2="280.62" y2="318.40" stroke="#efefef" stroke-width="0.8"/>
<line x1="296.54" y1="178.40" x2="296.54" y2="318.40" stroke="#e4e4e4" stroke-width="0.8"/>
<line x1="312.46" y1="178.40" x2="312.46" y2="318.40" stroke="#efefef" stroke-width="0.8"/>
<line x1="328.38" y1="178.40" x2="328.38" y2="318.40" stroke="#e4e4e4" stroke-width="0.8"/>
<line x1="344.30" y1="178.40" x2="344.30" y2="318.40" stroke="#efefef" stroke-width="0.8"/>
<line x1="360.22" y1="178.40" x2="360.22" y2="318.40" stroke="#e4e4e4" stroke-width="0.8"/>
<line x1="376.14" y1="178.40" x2="376.14" y2="318.40" stroke="#efefef" stroke-width="0.8"/>
<line x1="392.06" y1="178.40" x2="392.06" y2="318.40" stroke="#e4e4e4" stroke-width="0.8"/>
<line x1="407.98" y1="178.40" x2="407.98" y2="318.40" stroke="#efefef" stroke-width="0.8"/>
<line x1="423.90" y1="178.40" x2="423.90" y2="318.40" stroke="#e4e4e4" stroke-width="0.8"/>
<line x1="264.70" y1="306.73" x2="438.60" y2="306.73" stroke="#efefef" stroke-width="0.8"/>
<line x1="264.70" y1="295.06" x2="438.60" y2="295.06" stroke="#e4e4e4" stroke-width="0.8"/>
<line x1="264.70" y1="283.40" x2="438.60" y2="283.40" stroke="#efefef" stroke-width="0.8"/>
<line x1="264.70" y1="271.73" x2="438.60" y2="271.73" stroke="#e4e4e4" stroke-width="0.8"/>
<line x1="264.70" y1="260.06" x2="438.60" y2="260.06" stroke="#efefef" stroke-width="0.8"/>
<line x1="264.70" y1="248.39" x2="438.60" y2="248.39" stroke="#e4e4e4" stroke-width="0.8"/>
<line x1="264.70" y1="236.73" x2="438.60" y2="236.73" stroke="#efefef" stroke-width="0.8"/>
<line x1="264.70" y1="225.06" x2="438.60" y2="225.06" stroke="#e4e4e4" stroke-width="0.8"/>
<line x1="264.70" y1="213.39" x2="438.60" y2="213.39" stroke="#efefef" stroke-width="0.8"/>
<line x1="264.70" y1="201.72" x2="438.60" y2="201.72" stroke="#e4e4e4" stroke-width="0.8"/>
<line x1="264.70" y1="190.06" x2="438.60" y2="190.06" stroke="#efefef" stroke-width="0.8"/>
<line x1="264.70" y1="318.40" x2="264.70" y2="321.40" stroke="#555555" stroke-width="1"/>
<line x1="280.62" y1="318.40" x2="280.62" y2="320.40" stroke="#555555" stroke-width="1"/>
<line x1="296.54" y1="318.40" x2="296.54" y2="321.40" stroke="#555555" stroke-width="1"/>
<line x1="312.46" y1="318.40" x2="312.46" y2="320.40" stroke="#555555" stroke-width="1"/>
<line x1="328.38" y1="318.40" x2="328.38" y2="321.40" stroke="#555555" stroke-width="1"/>
<line x1="344.30" y1="318.40" x2="344.30" y2="320.40" stroke="#555555" stroke-width="1"/>
<line x1="360.22" y1="318.40" x2="360.22" y2="321.40" stroke="#555555" stroke-width="1"/>
<line x1="376.14" y1="318.40" x2="376.14" y2="320.40" stroke="#555555" stroke-width="1"/>
<line x1="392.06" y1="318.40" x2="392.06" y2="321.40" stroke="#555555" stroke-width="1"/>
<line x1="407.98" y1="318.40" x2="407.98" y2="320.40" stroke="#555555" stroke-width="1"/>
<line x1="423.90" y1="318.40" x2="423.90" y2="321.40" stroke="#555555" stroke-width="1"/>
<line x1="261.70" y1="318.40" x2="264.70" y2="318.40" stroke="#555555" stroke-width="1"/>
<text x="259.60" y="322.00" font-size="10" text-anchor="end" font-weight="normal" fill="#111" stroke="#111" stroke-width="0.3">0</text>
<line x1="262.70" y1="306.73" x2="264.70" y2="306.73" stroke="#555555" stroke-width="1"/>
<line x1="261.70" y1="295.06" x2="264.70" y2="295.06" stroke="#555555" stroke-width="1"/>
<text x="259.60" y="298.67" font-size="10" text-anchor="end" font-weight="normal" fill="#111" stroke="#111" stroke-width="0.3">5</text>
<line x1="262.70" y1="283.40" x2="264.70" y2="283.40" stroke="#555555" stroke-width="1"/>
<line x1="261.70" y1="271.73" x2="264.70" y2="271.73" stroke="#555555" stroke-width="1"/>
<text x="259.60" y="275.33" font-size="10" text-anchor="end" font-weight="normal" fill="#111" stroke="#111" stroke-width="0.3">10</text>
<line x1="262.70" y1="260.06" x2="264.70" y2="260.06" stroke="#555555" stroke-width="1"/>
<line x1="261.70" y1="248.39" x2="264.70" y2="248.39" stroke="#555555" stroke-width="1"/>
<text x="259.60" y="251.99" font-size="10" text-anchor="end" font-weight="normal" fill="#111" stroke="#111" stroke-width="0.3">15</text>
<line x1="262.70" y1="236.73" x2="264.70" y2="236.73" stroke="#555555" stroke-width="1"/>
<line x1="261.70" y1="225.06" x2="264.70" y2="225.06" stroke="#555555" stroke-width="1"/>
<text x="259.60" y="228.66" font-size="10" text-anchor="end" font-weight="normal" fill="#111" stroke="#111" stroke-width="0.3">20</text>
<line x1="262.70" y1="213.39" x2="264.70" y2="213.39" stroke="#555555" stroke-width="1"/>
<line x1="261.70" y1="201.72" x2="264.70" y2="201.72" stroke="#555555" stroke-width="1"/>
<text x="259.60" y="205.32" font-size="10" text-anchor="end" font-weight="normal" fill="#111" stroke="#111" stroke-width="0.3">25</text>
<line x1="262.70" y1="190.06" x2="264.70" y2="190.06" stroke="#555555" stroke-width="1"/>
<line x1="261.70" y1="178.39" x2="264.70" y2="178.39" stroke="#555555" stroke-width="1"/>
<text x="259.60" y="181.99" font-size="10" text-anchor="end" font-weight="normal" fill="#111" stroke="#111" stroke-width="0.3">30</text>
<rect x="264.70" y="178.40" width="173.90" height="140.00" fill="none" stroke="#8c8c8c" stroke-width="1.4"/>
<text x="264.70" y="331.60" font-size="10.6" text-anchor="middle" font-weight="normal" fill="#111" stroke="#111" stroke-width="0.3">0.0</text>
<text x="296.54" y="331.60" font-size="10.6" text-anchor="middle" font-weight="normal" fill="#111" stroke="#111" stroke-width="0.3">0.2</text>
<text x="328.38" y="331.60" font-size="10.6" text-anchor="middle" font-weight="normal" fill="#111" stroke="#111" stroke-width="0.3">0.4</text>
<text x="360.22" y="331.60" font-size="10.6" text-anchor="middle" font-weight="normal" fill="#111" stroke="#111" stroke-width="0.3">0.6</text>
<text x="392.06" y="331.60" font-size="10.6" text-anchor="middle" font-weight="normal" fill="#111" stroke="#111" stroke-width="0.3">0.8</text>
<text x="423.90" y="331.60" font-size="10.6" text-anchor="middle" font-weight="normal" fill="#111" stroke="#111" stroke-width="0.3">1.0</text>
<text x="245.20" y="247.60" font-size="10.6" text-anchor="middle" font-weight="normal" fill="#111" stroke="#111" stroke-width="0.3" transform="rotate(-90 245.2 247.6)">Latency (μs)</text>
<text x="351.90" y="342.20" font-size="10.5" text-anchor="middle" font-weight="normal" fill="#111" stroke="#111" stroke-width="0.3">Load</text>
<text x="243.90" y="340.60" font-size="10.6" text-anchor="middle" font-weight="bold" fill="#111" stroke="#111" stroke-width="0.5">(e)</text>
<text x="272.10" y="238.10" font-size="8.9" text-anchor="start" font-weight="bold" fill="#111" stroke="#111" stroke-width="0.5" transform="translate(272.1 238.1) scale(0.885 1) translate(-272.1 -238.1)">Traffic-B</text>
<polyline points="280.62,300.70 296.54,300.30 312.46,299.50 328.38,297.70 344.30,284.30 360.22,251.80 376.14,222.20 392.06,204.70 407.98,189.10 423.90,188.20" fill="none" stroke="#333333" stroke-width="1.3" stroke-linejoin="round"/>
<rect x="278.57" y="298.65" width="4.10" height="4.10" fill="#333333"/>
<rect x="294.49" y="298.25" width="4.10" height="4.10" fill="#333333"/>
<rect x="310.41" y="297.45" width="4.10" height="4.10" fill="#333333"/>
<rect x="326.33" y="295.65" width="4.10" height="4.10" fill="#333333"/>
<rect x="342.25" y="282.25" width="4.10" height="4.10" fill="#333333"/>
<rect x="358.17" y="249.75" width="4.10" height="4.10" fill="#333333"/>
<rect x="374.09" y="220.15" width="4.10" height="4.10" fill="#333333"/>
<rect x="390.01" y="202.65" width="4.10" height="4.10" fill="#333333"/>
<rect x="405.93" y="187.05" width="4.10" height="4.10" fill="#333333"/>
<rect x="421.85" y="186.15" width="4.10" height="4.10" fill="#333333"/>
<polyline points="280.62,303.90 296.54,303.90 312.46,303.90 328.38,303.90 344.30,303.60 360.22,303.40 376.14,303.40 392.06,301.90 407.98,299.70 423.90,290.60" fill="none" stroke="#d40a12" stroke-width="1.3" stroke-linejoin="round"/>
<circle cx="280.62" cy="303.90" r="2.50" fill="#d40a12"/>
<circle cx="296.54" cy="303.90" r="2.50" fill="#d40a12"/>
<circle cx="312.46" cy="303.90" r="2.50" fill="#d40a12"/>
<circle cx="328.38" cy="303.90" r="2.50" fill="#d40a12"/>
<circle cx="344.30" cy="303.60" r="2.50" fill="#d40a12"/>
<circle cx="360.22" cy="303.40" r="2.50" fill="#d40a12"/>
<circle cx="376.14" cy="303.40" r="2.50" fill="#d40a12"/>
<circle cx="392.06" cy="301.90" r="2.50" fill="#d40a12"/>
<circle cx="407.98" cy="299.70" r="2.50" fill="#d40a12"/>
<circle cx="423.90" cy="290.60" r="2.50" fill="#d40a12"/>
<polyline points="280.62,300.30 296.54,300.00 312.46,299.50 328.38,299.50 344.30,297.60 360.22,292.60 376.14,287.20 392.06,280.90 407.98,269.50 423.90,255.80" fill="none" stroke="#0f7f80" stroke-width="1.3" stroke-linejoin="round"/>
<path d="M280.62 297.30L283.62 302.55L277.62 302.55Z" fill="#0f7f80"/>
<path d="M296.54 297.00L299.54 302.25L293.54 302.25Z" fill="#0f7f80"/>
<path d="M312.46 296.50L315.46 301.75L309.46 301.75Z" fill="#0f7f80"/>
<path d="M328.38 296.50L331.38 301.75L325.38 301.75Z" fill="#0f7f80"/>
<path d="M344.30 294.60L347.30 299.85L341.30 299.85Z" fill="#0f7f80"/>
<path d="M360.22 289.60L363.22 294.85L357.22 294.85Z" fill="#0f7f80"/>
<path d="M376.14 284.20L379.14 289.45L373.14 289.45Z" fill="#0f7f80"/>
<path d="M392.06 277.90L395.06 283.15L389.06 283.15Z" fill="#0f7f80"/>
<path d="M407.98 266.50L410.98 271.75L404.98 271.75Z" fill="#0f7f80"/>
<path d="M423.90 252.80L426.90 258.05L420.90 258.05Z" fill="#0f7f80"/>
<polyline points="280.62,302.40 296.54,302.40 312.46,302.40 328.38,302.40 344.30,301.00 360.22,299.30 376.14,294.70 392.06,288.90 407.98,277.70 423.90,266.90" fill="none" stroke="#f5801f" stroke-width="1.3" stroke-linejoin="round"/>
<path d="M280.62 305.40L283.62 300.15L277.62 300.15Z" fill="#f5801f"/>
<path d="M296.54 305.40L299.54 300.15L293.54 300.15Z" fill="#f5801f"/>
<path d="M312.46 305.40L315.46 300.15L309.46 300.15Z" fill="#f5801f"/>
<path d="M328.38 305.40L331.38 300.15L325.38 300.15Z" fill="#f5801f"/>
<path d="M344.30 304.00L347.30 298.75L341.30 298.75Z" fill="#f5801f"/>
<path d="M360.22 302.30L363.22 297.05L357.22 297.05Z" fill="#f5801f"/>
<path d="M376.14 297.70L379.14 292.45L373.14 292.45Z" fill="#f5801f"/>
<path d="M392.06 291.90L395.06 286.65L389.06 286.65Z" fill="#f5801f"/>
<path d="M407.98 280.70L410.98 275.45L404.98 275.45Z" fill="#f5801f"/>
<path d="M423.90 269.90L426.90 264.65L420.90 264.65Z" fill="#f5801f"/>
<rect x="268.50" y="182.40" width="101.10" height="37.30" fill="#fff" stroke="#bdbdbd" stroke-width="0.9"/>
<line x1="269.00" y1="187.70" x2="285.00" y2="187.70" stroke="#333333" stroke-width="1.3"/>
<rect x="275.26" y="185.96" width="3.48" height="3.48" fill="#333333"/>
<text x="287.00" y="190.04" font-size="7.632000000000001" text-anchor="start" font-weight="normal" fill="#1a1a1a" stroke="#1a1a1a" stroke-width="0.3" transform="translate(287.0 190.042) scale(0.943 1) translate(-287.0 -190.042)">Case-2(fix) IC</text>
<line x1="269.00" y1="196.60" x2="285.00" y2="196.60" stroke="#d40a12" stroke-width="1.3"/>
<circle cx="277.00" cy="196.60" r="2.12" fill="#d40a12"/>
<text x="287.00" y="198.94" font-size="7.632000000000001" text-anchor="start" font-weight="normal" fill="#1a1a1a" stroke="#1a1a1a" stroke-width="0.3" transform="translate(287.0 198.942) scale(0.943 1) translate(-287.0 -198.942)">Case-2(fix) EC</text>
<line x1="269.00" y1="205.00" x2="285.00" y2="205.00" stroke="#0f7f80" stroke-width="1.3"/>
<path d="M277.00 202.45L279.55 206.91L274.45 206.91Z" fill="#0f7f80"/>
<text x="287.00" y="207.34" font-size="7.632000000000001" text-anchor="start" font-weight="normal" fill="#1a1a1a" stroke="#1a1a1a" stroke-width="0.3" transform="translate(287.0 207.342) scale(0.943 1) translate(-287.0 -207.342)">Case-3 (reconfigured) IC</text>
<line x1="269.00" y1="213.80" x2="285.00" y2="213.80" stroke="#f5801f" stroke-width="1.3"/>
<path d="M277.00 216.35L279.55 211.89L274.45 211.89Z" fill="#f5801f"/>
<text x="287.00" y="216.14" font-size="7.632000000000001" text-anchor="start" font-weight="normal" fill="#1a1a1a" stroke="#1a1a1a" stroke-width="0.3" transform="translate(287.0 216.14200000000002) scale(0.943 1) translate(-287.0 -216.14200000000002)">Case-3 (reconfigured) EC</text>
<line x1="507.70" y1="4.10" x2="507.70" y2="145.00" stroke="#e4e4e4" stroke-width="0.8"/>
<line x1="524.92" y1="4.10" x2="524.92" y2="145.00" stroke="#efefef" stroke-width="0.8"/>
<line x1="542.14" y1="4.10" x2="542.14" y2="145.00" stroke="#e4e4e4" stroke-width="0.8"/>
<line x1="559.36" y1="4.10" x2="559.36" y2="145.00" stroke="#efefef" stroke-width="0.8"/>
<line x1="576.58" y1="4.10" x2="576.58" y2="145.00" stroke="#e4e4e4" stroke-width="0.8"/>
<line x1="593.80" y1="4.10" x2="593.80" y2="145.00" stroke="#efefef" stroke-width="0.8"/>
<line x1="611.02" y1="4.10" x2="611.02" y2="145.00" stroke="#e4e4e4" stroke-width="0.8"/>
<line x1="628.24" y1="4.10" x2="628.24" y2="145.00" stroke="#efefef" stroke-width="0.8"/>
<line x1="645.46" y1="4.10" x2="645.46" y2="145.00" stroke="#e4e4e4" stroke-width="0.8"/>
<line x1="662.68" y1="4.10" x2="662.68" y2="145.00" stroke="#efefef" stroke-width="0.8"/>
<line x1="679.90" y1="4.10" x2="679.90" y2="145.00" stroke="#e4e4e4" stroke-width="0.8"/>
<line x1="490.10" y1="133.30" x2="680.00" y2="133.30" stroke="#e4e4e4" stroke-width="0.8"/>
<line x1="490.10" y1="121.57" x2="680.00" y2="121.57" stroke="#efefef" stroke-width="0.8"/>
<line x1="490.10" y1="109.84" x2="680.00" y2="109.84" stroke="#e4e4e4" stroke-width="0.8"/>
<line x1="490.10" y1="98.11" x2="680.00" y2="98.11" stroke="#efefef" stroke-width="0.8"/>
<line x1="490.10" y1="86.38" x2="680.00" y2="86.38" stroke="#e4e4e4" stroke-width="0.8"/>
<line x1="490.10" y1="74.65" x2="680.00" y2="74.65" stroke="#efefef" stroke-width="0.8"/>
<line x1="490.10" y1="62.92" x2="680.00" y2="62.92" stroke="#e4e4e4" stroke-width="0.8"/>
<line x1="490.10" y1="51.19" x2="680.00" y2="51.19" stroke="#efefef" stroke-width="0.8"/>
<line x1="490.10" y1="39.46" x2="680.00" y2="39.46" stroke="#e4e4e4" stroke-width="0.8"/>
<line x1="490.10" y1="27.73" x2="680.00" y2="27.73" stroke="#efefef" stroke-width="0.8"/>
<line x1="490.10" y1="16.00" x2="680.00" y2="16.00" stroke="#e4e4e4" stroke-width="0.8"/>
<line x1="490.48" y1="145.00" x2="490.48" y2="147.00" stroke="#555555" stroke-width="1"/>
<line x1="507.70" y1="145.00" x2="507.70" y2="148.00" stroke="#555555" stroke-width="1"/>
<line x1="524.92" y1="145.00" x2="524.92" y2="147.00" stroke="#555555" stroke-width="1"/>
<line x1="542.14" y1="145.00" x2="542.14" y2="148.00" stroke="#555555" stroke-width="1"/>
<line x1="559.36" y1="145.00" x2="559.36" y2="147.00" stroke="#555555" stroke-width="1"/>
<line x1="576.58" y1="145.00" x2="576.58" y2="148.00" stroke="#555555" stroke-width="1"/>
<line x1="593.80" y1="145.00" x2="593.80" y2="147.00" stroke="#555555" stroke-width="1"/>
<line x1="611.02" y1="145.00" x2="611.02" y2="148.00" stroke="#555555" stroke-width="1"/>
<line x1="628.24" y1="145.00" x2="628.24" y2="147.00" stroke="#555555" stroke-width="1"/>
<line x1="645.46" y1="145.00" x2="645.46" y2="148.00" stroke="#555555" stroke-width="1"/>
<line x1="662.68" y1="145.00" x2="662.68" y2="147.00" stroke="#555555" stroke-width="1"/>
<line x1="679.90" y1="145.00" x2="679.90" y2="148.00" stroke="#555555" stroke-width="1"/>
<line x1="488.10" y1="145.03" x2="490.10" y2="145.03" stroke="#555555" stroke-width="1"/>
<line x1="487.10" y1="133.30" x2="490.10" y2="133.30" stroke="#555555" stroke-width="1"/>
<line x1="488.10" y1="121.57" x2="490.10" y2="121.57" stroke="#555555" stroke-width="1"/>
<line x1="487.10" y1="109.84" x2="490.10" y2="109.84" stroke="#555555" stroke-width="1"/>
<line x1="488.10" y1="98.11" x2="490.10" y2="98.11" stroke="#555555" stroke-width="1"/>
<line x1="487.10" y1="86.38" x2="490.10" y2="86.38" stroke="#555555" stroke-width="1"/>
<line x1="488.10" y1="74.65" x2="490.10" y2="74.65" stroke="#555555" stroke-width="1"/>
<line x1="487.10" y1="62.92" x2="490.10" y2="62.92" stroke="#555555" stroke-width="1"/>
<line x1="488.10" y1="51.19" x2="490.10" y2="51.19" stroke="#555555" stroke-width="1"/>
<line x1="487.10" y1="39.46" x2="490.10" y2="39.46" stroke="#555555" stroke-width="1"/>
<line x1="488.10" y1="27.73" x2="490.10" y2="27.73" stroke="#555555" stroke-width="1"/>
<line x1="487.10" y1="16.00" x2="490.10" y2="16.00" stroke="#555555" stroke-width="1"/>
<line x1="488.10" y1="4.27" x2="490.10" y2="4.27" stroke="#555555" stroke-width="1"/>
<rect x="490.10" y="4.10" width="189.90" height="140.90" fill="none" stroke="#8c8c8c" stroke-width="1.4"/>
<text x="485.80" y="137.20" font-size="11.0" text-anchor="end" font-weight="normal" fill="#111" stroke="#111" stroke-width="0.3">0.0</text>
<text x="485.80" y="113.74" font-size="11.0" text-anchor="end" font-weight="normal" fill="#111" stroke="#111" stroke-width="0.3">0.2</text>
<text x="485.80" y="90.28" font-size="11.0" text-anchor="end" font-weight="normal" fill="#111" stroke="#111" stroke-width="0.3">0.4</text>
<text x="485.80" y="66.82" font-size="11.0" text-anchor="end" font-weight="normal" fill="#111" stroke="#111" stroke-width="0.3">0.6</text>
<text x="485.80" y="43.36" font-size="11.0" text-anchor="end" font-weight="normal" fill="#111" stroke="#111" stroke-width="0.3">0.8</text>
<text x="485.80" y="19.90" font-size="11.0" text-anchor="end" font-weight="normal" fill="#111" stroke="#111" stroke-width="0.3">1.0</text>
<text x="507.70" y="158.90" font-size="11.0" text-anchor="middle" font-weight="normal" fill="#111" stroke="#111" stroke-width="0.3">0</text>
<text x="542.14" y="158.90" font-size="11.0" text-anchor="middle" font-weight="normal" fill="#111" stroke="#111" stroke-width="0.3">10</text>
<text x="576.58" y="158.90" font-size="11.0" text-anchor="middle" font-weight="normal" fill="#111" stroke="#111" stroke-width="0.3">20</text>
<text x="611.02" y="158.90" font-size="11.0" text-anchor="middle" font-weight="normal" fill="#111" stroke="#111" stroke-width="0.3">30</text>
<text x="645.46" y="158.90" font-size="11.0" text-anchor="middle" font-weight="normal" fill="#111" stroke="#111" stroke-width="0.3">40</text>
<text x="679.90" y="158.90" font-size="11.0" text-anchor="middle" font-weight="normal" fill="#111" stroke="#111" stroke-width="0.3">50</text>
<text x="465.00" y="71.20" font-size="10.2" text-anchor="middle" font-weight="normal" fill="#111" stroke="#111" stroke-width="0.3" transform="rotate(-90 465.0 71.2)">Latency CDF</text>
<text x="585.30" y="170.60" font-size="10.5" text-anchor="middle" font-weight="normal" fill="#111" stroke="#111" stroke-width="0.3">Server-to-server Latency (μs)</text>
<text x="467.40" y="163.40" font-size="10.2" text-anchor="middle" font-weight="bold" fill="#111" stroke="#111" stroke-width="0.5">(c)</text>
<polyline points="517.2,133.4 520,132.6 524.6,129.4 532.6,125.4 540,122.0 545.3,119.4 547.3,116 548.4,109 549.6,99 551,89 553,79.5 555.6,70 558.6,62 561.5,55.5 564.5,50 567.6,45.6 571,42 574.6,39.2 579,37.2 584.3,35 590,32 596.4,28.9 603,26.4 610.5,24.4 620,22.6 630.7,21.2 643,19.6 656.9,18.2 668,17.3 679.1,16.6" fill="none" stroke="#d40a12" stroke-width="1.4" stroke-linejoin="round"/>
<polyline points="512.6,133.4 515.5,110 518,85 519.2,63.5 521,53 523.3,45.3 526.5,36.5 530.3,30.2 535.5,25 542.4,20.6 552,18.2 566.5,16.4" fill="none" stroke="#f5801f" stroke-width="1.4" stroke-linejoin="round"/>
<polyline points="512.4,133.4 514.5,100 516,70 517.2,55.4 518.5,46 520.2,39.3 522.5,31.5 525.3,25.2 528.5,20 533.3,16.2" fill="none" stroke="#0f7f80" stroke-width="1.4" stroke-linejoin="round"/>
<polyline points="512.4,133.4 514.2,100 515.2,60 515.8,40 517,22 518.2,17 519.8,16.1" fill="none" stroke="#333333" stroke-width="1.4" stroke-linejoin="round"/>
<rect x="567.1" y="74.4" width="104.80" height="58.10" fill="#fff" stroke="#bdbdbd" stroke-width="0.9"/>
<text x="573.10" y="85.40" font-size="6.6" text-anchor="start" font-weight="normal" fill="#111" stroke="#111" stroke-width="0.3">Traffic_B, Load=0.6</text>
<line x1="572.50" y1="93.80" x2="593.30" y2="93.80" stroke="#d40a12" stroke-width="1.4"/>
<text x="595.30" y="96.20" font-size="6.6" text-anchor="start" font-weight="normal" fill="#111" stroke="#111" stroke-width="0.3">Case-1 (fix) EC</text>
<line x1="572.50" y1="105.90" x2="593.30" y2="105.90" stroke="#f5801f" stroke-width="1.4"/>
<text x="595.30" y="108.30" font-size="6.6" text-anchor="start" font-weight="normal" fill="#111" stroke="#111" stroke-width="0.3">Case-2 (reconfigured) EC</text>
<line x1="572.50" y1="117.00" x2="593.30" y2="117.00" stroke="#0f7f80" stroke-width="1.4"/>
<text x="595.30" y="119.40" font-size="6.6" text-anchor="start" font-weight="normal" fill="#111" stroke="#111" stroke-width="0.3">Case-2 (reconfigured) IC</text>
<line x1="572.50" y1="127.90" x2="593.30" y2="127.90" stroke="#333333" stroke-width="1.4"/>
<text x="595.30" y="130.30" font-size="6.6" text-anchor="start" font-weight="normal" fill="#111" stroke="#111" stroke-width="0.3">Case-1 (fix) IC</text>
<line x1="514.90" y1="178.80" x2="514.90" y2="319.40" stroke="#efefef" stroke-width="0.8"/>
<line x1="530.60" y1="178.80" x2="530.60" y2="319.40" stroke="#e4e4e4" stroke-width="0.8"/>
<line x1="546.30" y1="178.80" x2="546.30" y2="319.40" stroke="#efefef" stroke-width="0.8"/>
<line x1="562.00" y1="178.80" x2="562.00" y2="319.40" stroke="#e4e4e4" stroke-width="0.8"/>
<line x1="577.70" y1="178.80" x2="577.70" y2="319.40" stroke="#efefef" stroke-width="0.8"/>
<line x1="593.40" y1="178.80" x2="593.40" y2="319.40" stroke="#e4e4e4" stroke-width="0.8"/>
<line x1="609.10" y1="178.80" x2="609.10" y2="319.40" stroke="#efefef" stroke-width="0.8"/>
<line x1="624.80" y1="178.80" x2="624.80" y2="319.40" stroke="#e4e4e4" stroke-width="0.8"/>
<line x1="640.50" y1="178.80" x2="640.50" y2="319.40" stroke="#efefef" stroke-width="0.8"/>
<line x1="656.20" y1="178.80" x2="656.20" y2="319.40" stroke="#e4e4e4" stroke-width="0.8"/>
<line x1="499.20" y1="313.92" x2="671.40" y2="313.92" stroke="#f2f2f2" stroke-width="0.7"/>
<line x1="499.20" y1="310.71" x2="671.40" y2="310.71" stroke="#f2f2f2" stroke-width="0.7"/>
<line x1="499.20" y1="308.43" x2="671.40" y2="308.43" stroke="#f2f2f2" stroke-width="0.7"/>
<line x1="499.20" y1="306.66" x2="671.40" y2="306.66" stroke="#f2f2f2" stroke-width="0.7"/>
<line x1="499.20" y1="305.21" x2="671.40" y2="305.21" stroke="#f2f2f2" stroke-width="0.7"/>
<line x1="499.20" y1="303.99" x2="671.40" y2="303.99" stroke="#f2f2f2" stroke-width="0.7"/>
<line x1="499.20" y1="302.93" x2="671.40" y2="302.93" stroke="#f2f2f2" stroke-width="0.7"/>
<line x1="499.20" y1="302.00" x2="671.40" y2="302.00" stroke="#f2f2f2" stroke-width="0.7"/>
<line x1="499.20" y1="301.16" x2="671.40" y2="301.16" stroke="#e4e4e4" stroke-width="0.7"/>
<line x1="499.20" y1="295.66" x2="671.40" y2="295.66" stroke="#f2f2f2" stroke-width="0.7"/>
<line x1="499.20" y1="292.45" x2="671.40" y2="292.45" stroke="#f2f2f2" stroke-width="0.7"/>
<line x1="499.20" y1="290.17" x2="671.40" y2="290.17" stroke="#f2f2f2" stroke-width="0.7"/>
<line x1="499.20" y1="288.40" x2="671.40" y2="288.40" stroke="#f2f2f2" stroke-width="0.7"/>
<line x1="499.20" y1="286.95" x2="671.40" y2="286.95" stroke="#f2f2f2" stroke-width="0.7"/>
<line x1="499.20" y1="285.73" x2="671.40" y2="285.73" stroke="#f2f2f2" stroke-width="0.7"/>
<line x1="499.20" y1="284.67" x2="671.40" y2="284.67" stroke="#f2f2f2" stroke-width="0.7"/>
<line x1="499.20" y1="283.74" x2="671.40" y2="283.74" stroke="#f2f2f2" stroke-width="0.7"/>
<line x1="499.20" y1="282.90" x2="671.40" y2="282.90" stroke="#e4e4e4" stroke-width="0.7"/>
<line x1="499.20" y1="277.40" x2="671.40" y2="277.40" stroke="#f2f2f2" stroke-width="0.7"/>
<line x1="499.20" y1="274.19" x2="671.40" y2="274.19" stroke="#f2f2f2" stroke-width="0.7"/>
<line x1="499.20" y1="271.91" x2="671.40" y2="271.91" stroke="#f2f2f2" stroke-width="0.7"/>
<line x1="499.20" y1="270.14" x2="671.40" y2="270.14" stroke="#f2f2f2" stroke-width="0.7"/>
<line x1="499.20" y1="268.69" x2="671.40" y2="268.69" stroke="#f2f2f2" stroke-width="0.7"/>
<line x1="499.20" y1="267.47" x2="671.40" y2="267.47" stroke="#f2f2f2" stroke-width="0.7"/>
<line x1="499.20" y1="266.41" x2="671.40" y2="266.41" stroke="#f2f2f2" stroke-width="0.7"/>
<line x1="499.20" y1="265.48" x2="671.40" y2="265.48" stroke="#f2f2f2" stroke-width="0.7"/>
<line x1="499.20" y1="264.64" x2="671.40" y2="264.64" stroke="#e4e4e4" stroke-width="0.7"/>
<line x1="499.20" y1="259.14" x2="671.40" y2="259.14" stroke="#f2f2f2" stroke-width="0.7"/>
<line x1="499.20" y1="255.93" x2="671.40" y2="255.93" stroke="#f2f2f2" stroke-width="0.7"/>
<line x1="499.20" y1="253.65" x2="671.40" y2="253.65" stroke="#f2f2f2" stroke-width="0.7"/>
<line x1="499.20" y1="251.88" x2="671.40" y2="251.88" stroke="#f2f2f2" stroke-width="0.7"/>
<line x1="499.20" y1="250.43" x2="671.40" y2="250.43" stroke="#f2f2f2" stroke-width="0.7"/>
<line x1="499.20" y1="249.21" x2="671.40" y2="249.21" stroke="#f2f2f2" stroke-width="0.7"/>
<line x1="499.20" y1="248.15" x2="671.40" y2="248.15" stroke="#f2f2f2" stroke-width="0.7"/>
<line x1="499.20" y1="247.22" x2="671.40" y2="247.22" stroke="#f2f2f2" stroke-width="0.7"/>
<line x1="499.20" y1="246.38" x2="671.40" y2="246.38" stroke="#e4e4e4" stroke-width="0.7"/>
<line x1="499.20" y1="240.88" x2="671.40" y2="240.88" stroke="#f2f2f2" stroke-width="0.7"/>
<line x1="499.20" y1="237.67" x2="671.40" y2="237.67" stroke="#f2f2f2" stroke-width="0.7"/>
<line x1="499.20" y1="235.39" x2="671.40" y2="235.39" stroke="#f2f2f2" stroke-width="0.7"/>
<line x1="499.20" y1="233.62" x2="671.40" y2="233.62" stroke="#f2f2f2" stroke-width="0.7"/>
<line x1="499.20" y1="232.17" x2="671.40" y2="232.17" stroke="#f2f2f2" stroke-width="0.7"/>
<line x1="499.20" y1="230.95" x2="671.40" y2="230.95" stroke="#f2f2f2" stroke-width="0.7"/>
<line x1="499.20" y1="229.89" x2="671.40" y2="229.89" stroke="#f2f2f2" stroke-width="0.7"/>
<line x1="499.20" y1="228.96" x2="671.40" y2="228.96" stroke="#f2f2f2" stroke-width="0.7"/>
<line x1="499.20" y1="228.12" x2="671.40" y2="228.12" stroke="#e4e4e4" stroke-width="0.7"/>
<line x1="499.20" y1="222.62" x2="671.40" y2="222.62" stroke="#f2f2f2" stroke-width="0.7"/>
<line x1="499.20" y1="219.41" x2="671.40" y2="219.41" stroke="#f2f2f2" stroke-width="0.7"/>
<line x1="499.20" y1="217.13" x2="671.40" y2="217.13" stroke="#f2f2f2" stroke-width="0.7"/>
<line x1="499.20" y1="215.36" x2="671.40" y2="215.36" stroke="#f2f2f2" stroke-width="0.7"/>
<line x1="499.20" y1="213.91" x2="671.40" y2="213.91" stroke="#f2f2f2" stroke-width="0.7"/>
<line x1="499.20" y1="212.69" x2="671.40" y2="212.69" stroke="#f2f2f2" stroke-width="0.7"/>
<line x1="499.20" y1="211.63" x2="671.40" y2="211.63" stroke="#f2f2f2" stroke-width="0.7"/>
<line x1="499.20" y1="210.70" x2="671.40" y2="210.70" stroke="#f2f2f2" stroke-width="0.7"/>
<line x1="499.20" y1="209.86" x2="671.40" y2="209.86" stroke="#e4e4e4" stroke-width="0.7"/>
<line x1="499.20" y1="204.36" x2="671.40" y2="204.36" stroke="#f2f2f2" stroke-width="0.7"/>
<line x1="499.20" y1="201.15" x2="671.40" y2="201.15" stroke="#f2f2f2" stroke-width="0.7"/>
<line x1="499.20" y1="198.87" x2="671.40" y2="198.87" stroke="#f2f2f2" stroke-width="0.7"/>
<line x1="499.20" y1="197.10" x2="671.40" y2="197.10" stroke="#f2f2f2" stroke-width="0.7"/>
<line x1="499.20" y1="195.65" x2="671.40" y2="195.65" stroke="#f2f2f2" stroke-width="0.7"/>
<line x1="499.20" y1="194.43" x2="671.40" y2="194.43" stroke="#f2f2f2" stroke-width="0.7"/>
<line x1="499.20" y1="193.37" x2="671.40" y2="193.37" stroke="#f2f2f2" stroke-width="0.7"/>
<line x1="499.20" y1="192.44" x2="671.40" y2="192.44" stroke="#f2f2f2" stroke-width="0.7"/>
<line x1="499.20" y1="191.60" x2="671.40" y2="191.60" stroke="#e4e4e4" stroke-width="0.7"/>
<line x1="499.20" y1="186.10" x2="671.40" y2="186.10" stroke="#f2f2f2" stroke-width="0.7"/>
<line x1="499.20" y1="182.89" x2="671.40" y2="182.89" stroke="#f2f2f2" stroke-width="0.7"/>
<line x1="499.20" y1="180.61" x2="671.40" y2="180.61" stroke="#f2f2f2" stroke-width="0.7"/>
<line x1="499.20" y1="178.84" x2="671.40" y2="178.84" stroke="#f2f2f2" stroke-width="0.7"/>
<line x1="499.20" y1="319.40" x2="499.20" y2="322.40" stroke="#555555" stroke-width="1"/>
<line x1="514.90" y1="319.40" x2="514.90" y2="321.40" stroke="#555555" stroke-width="1"/>
<line x1="530.60" y1="319.40" x2="530.60" y2="322.40" stroke="#555555" stroke-width="1"/>
<line x1="546.30" y1="319.40" x2="546.30" y2="321.40" stroke="#555555" stroke-width="1"/>
<line x1="562.00" y1="319.40" x2="562.00" y2="322.40" stroke="#555555" stroke-width="1"/>
<line x1="577.70" y1="319.40" x2="577.70" y2="321.40" stroke="#555555" stroke-width="1"/>
<line x1="593.40" y1="319.40" x2="593.40" y2="322.40" stroke="#555555" stroke-width="1"/>
<line x1="609.10" y1="319.40" x2="609.10" y2="321.40" stroke="#555555" stroke-width="1"/>
<line x1="624.80" y1="319.40" x2="624.80" y2="322.40" stroke="#555555" stroke-width="1"/>
<line x1="640.50" y1="319.40" x2="640.50" y2="321.40" stroke="#555555" stroke-width="1"/>
<line x1="656.20" y1="319.40" x2="656.20" y2="322.40" stroke="#555555" stroke-width="1"/>
<line x1="496.20" y1="319.42" x2="499.20" y2="319.42" stroke="#555555" stroke-width="1"/>
<line x1="497.60" y1="313.92" x2="499.20" y2="313.92" stroke="#555555" stroke-width="0.8"/>
<line x1="497.60" y1="310.71" x2="499.20" y2="310.71" stroke="#555555" stroke-width="0.8"/>
<line x1="497.60" y1="308.43" x2="499.20" y2="308.43" stroke="#555555" stroke-width="0.8"/>
<line x1="497.60" y1="306.66" x2="499.20" y2="306.66" stroke="#555555" stroke-width="0.8"/>
<line x1="497.60" y1="305.21" x2="499.20" y2="305.21" stroke="#555555" stroke-width="0.8"/>
<line x1="497.60" y1="303.99" x2="499.20" y2="303.99" stroke="#555555" stroke-width="0.8"/>
<line x1="497.60" y1="302.93" x2="499.20" y2="302.93" stroke="#555555" stroke-width="0.8"/>
<line x1="497.60" y1="302.00" x2="499.20" y2="302.00" stroke="#555555" stroke-width="0.8"/>
<text x="494.20" y="323.02" font-size="10.0" text-anchor="end" font-weight="normal" fill="#111" stroke="#111" stroke-width="0.3">1E-8</text>
<line x1="496.20" y1="301.16" x2="499.20" y2="301.16" stroke="#555555" stroke-width="1"/>
<line x1="497.60" y1="295.66" x2="499.20" y2="295.66" stroke="#555555" stroke-width="0.8"/>
<line x1="497.60" y1="292.45" x2="499.20" y2="292.45" stroke="#555555" stroke-width="0.8"/>
<line x1="497.60" y1="290.17" x2="499.20" y2="290.17" stroke="#555555" stroke-width="0.8"/>
<line x1="497.60" y1="288.40" x2="499.20" y2="288.40" stroke="#555555" stroke-width="0.8"/>
<line x1="497.60" y1="286.95" x2="499.20" y2="286.95" stroke="#555555" stroke-width="0.8"/>
<line x1="497.60" y1="285.73" x2="499.20" y2="285.73" stroke="#555555" stroke-width="0.8"/>
<line x1="497.60" y1="284.67" x2="499.20" y2="284.67" stroke="#555555" stroke-width="0.8"/>
<line x1="497.60" y1="283.74" x2="499.20" y2="283.74" stroke="#555555" stroke-width="0.8"/>
<text x="494.20" y="304.76" font-size="10.0" text-anchor="end" font-weight="normal" fill="#111" stroke="#111" stroke-width="0.3">1E-7</text>
<line x1="496.20" y1="282.90" x2="499.20" y2="282.90" stroke="#555555" stroke-width="1"/>
<line x1="497.60" y1="277.40" x2="499.20" y2="277.40" stroke="#555555" stroke-width="0.8"/>
<line x1="497.60" y1="274.19" x2="499.20" y2="274.19" stroke="#555555" stroke-width="0.8"/>
<line x1="497.60" y1="271.91" x2="499.20" y2="271.91" stroke="#555555" stroke-width="0.8"/>
<line x1="497.60" y1="270.14" x2="499.20" y2="270.14" stroke="#555555" stroke-width="0.8"/>
<line x1="497.60" y1="268.69" x2="499.20" y2="268.69" stroke="#555555" stroke-width="0.8"/>
<line x1="497.60" y1="267.47" x2="499.20" y2="267.47" stroke="#555555" stroke-width="0.8"/>
<line x1="497.60" y1="266.41" x2="499.20" y2="266.41" stroke="#555555" stroke-width="0.8"/>
<line x1="497.60" y1="265.48" x2="499.20" y2="265.48" stroke="#555555" stroke-width="0.8"/>
<text x="494.20" y="286.50" font-size="10.0" text-anchor="end" font-weight="normal" fill="#111" stroke="#111" stroke-width="0.3">1E-6</text>
<line x1="496.20" y1="264.64" x2="499.20" y2="264.64" stroke="#555555" stroke-width="1"/>
<line x1="497.60" y1="259.14" x2="499.20" y2="259.14" stroke="#555555" stroke-width="0.8"/>
<line x1="497.60" y1="255.93" x2="499.20" y2="255.93" stroke="#555555" stroke-width="0.8"/>
<line x1="497.60" y1="253.65" x2="499.20" y2="253.65" stroke="#555555" stroke-width="0.8"/>
<line x1="497.60" y1="251.88" x2="499.20" y2="251.88" stroke="#555555" stroke-width="0.8"/>
<line x1="497.60" y1="250.43" x2="499.20" y2="250.43" stroke="#555555" stroke-width="0.8"/>
<line x1="497.60" y1="249.21" x2="499.20" y2="249.21" stroke="#555555" stroke-width="0.8"/>
<line x1="497.60" y1="248.15" x2="499.20" y2="248.15" stroke="#555555" stroke-width="0.8"/>
<line x1="497.60" y1="247.22" x2="499.20" y2="247.22" stroke="#555555" stroke-width="0.8"/>
<text x="494.20" y="268.24" font-size="10.0" text-anchor="end" font-weight="normal" fill="#111" stroke="#111" stroke-width="0.3">1E-5</text>
<line x1="496.20" y1="246.38" x2="499.20" y2="246.38" stroke="#555555" stroke-width="1"/>
<line x1="497.60" y1="240.88" x2="499.20" y2="240.88" stroke="#555555" stroke-width="0.8"/>
<line x1="497.60" y1="237.67" x2="499.20" y2="237.67" stroke="#555555" stroke-width="0.8"/>
<line x1="497.60" y1="235.39" x2="499.20" y2="235.39" stroke="#555555" stroke-width="0.8"/>
<line x1="497.60" y1="233.62" x2="499.20" y2="233.62" stroke="#555555" stroke-width="0.8"/>
<line x1="497.60" y1="232.17" x2="499.20" y2="232.17" stroke="#555555" stroke-width="0.8"/>
<line x1="497.60" y1="230.95" x2="499.20" y2="230.95" stroke="#555555" stroke-width="0.8"/>
<line x1="497.60" y1="229.89" x2="499.20" y2="229.89" stroke="#555555" stroke-width="0.8"/>
<line x1="497.60" y1="228.96" x2="499.20" y2="228.96" stroke="#555555" stroke-width="0.8"/>
<text x="494.20" y="249.98" font-size="10.0" text-anchor="end" font-weight="normal" fill="#111" stroke="#111" stroke-width="0.3">1E-4</text>
<line x1="496.20" y1="228.12" x2="499.20" y2="228.12" stroke="#555555" stroke-width="1"/>
<line x1="497.60" y1="222.62" x2="499.20" y2="222.62" stroke="#555555" stroke-width="0.8"/>
<line x1="497.60" y1="219.41" x2="499.20" y2="219.41" stroke="#555555" stroke-width="0.8"/>
<line x1="497.60" y1="217.13" x2="499.20" y2="217.13" stroke="#555555" stroke-width="0.8"/>
<line x1="497.60" y1="215.36" x2="499.20" y2="215.36" stroke="#555555" stroke-width="0.8"/>
<line x1="497.60" y1="213.91" x2="499.20" y2="213.91" stroke="#555555" stroke-width="0.8"/>
<line x1="497.60" y1="212.69" x2="499.20" y2="212.69" stroke="#555555" stroke-width="0.8"/>
<line x1="497.60" y1="211.63" x2="499.20" y2="211.63" stroke="#555555" stroke-width="0.8"/>
<line x1="497.60" y1="210.70" x2="499.20" y2="210.70" stroke="#555555" stroke-width="0.8"/>
<text x="494.20" y="231.72" font-size="10.0" text-anchor="end" font-weight="normal" fill="#111" stroke="#111" stroke-width="0.3">0.001</text>
<line x1="496.20" y1="209.86" x2="499.20" y2="209.86" stroke="#555555" stroke-width="1"/>
<line x1="497.60" y1="204.36" x2="499.20" y2="204.36" stroke="#555555" stroke-width="0.8"/>
<line x1="497.60" y1="201.15" x2="499.20" y2="201.15" stroke="#555555" stroke-width="0.8"/>
<line x1="497.60" y1="198.87" x2="499.20" y2="198.87" stroke="#555555" stroke-width="0.8"/>
<line x1="497.60" y1="197.10" x2="499.20" y2="197.10" stroke="#555555" stroke-width="0.8"/>
<line x1="497.60" y1="195.65" x2="499.20" y2="195.65" stroke="#555555" stroke-width="0.8"/>
<line x1="497.60" y1="194.43" x2="499.20" y2="194.43" stroke="#555555" stroke-width="0.8"/>
<line x1="497.60" y1="193.37" x2="499.20" y2="193.37" stroke="#555555" stroke-width="0.8"/>
<line x1="497.60" y1="192.44" x2="499.20" y2="192.44" stroke="#555555" stroke-width="0.8"/>
<text x="494.20" y="213.46" font-size="10.0" text-anchor="end" font-weight="normal" fill="#111" stroke="#111" stroke-width="0.3">0.01</text>
<line x1="496.20" y1="191.60" x2="499.20" y2="191.60" stroke="#555555" stroke-width="1"/>
<line x1="497.60" y1="186.10" x2="499.20" y2="186.10" stroke="#555555" stroke-width="0.8"/>
<line x1="497.60" y1="182.89" x2="499.20" y2="182.89" stroke="#555555" stroke-width="0.8"/>
<line x1="497.60" y1="180.61" x2="499.20" y2="180.61" stroke="#555555" stroke-width="0.8"/>
<line x1="497.60" y1="178.84" x2="499.20" y2="178.84" stroke="#555555" stroke-width="0.8"/>
<text x="494.20" y="195.20" font-size="10.0" text-anchor="end" font-weight="normal" fill="#111" stroke="#111" stroke-width="0.3">0.1</text>
<line x1="668.40" y1="319.40" x2="671.40" y2="319.40" stroke="#555555" stroke-width="1"/>
<text x="675.00" y="323.00" font-size="10.4" text-anchor="start" font-weight="normal" fill="#111" stroke="#111" stroke-width="0.3">0</text>
<line x1="669.40" y1="306.60" x2="671.40" y2="306.60" stroke="#555555" stroke-width="1"/>
<line x1="668.40" y1="293.80" x2="671.40" y2="293.80" stroke="#555555" stroke-width="1"/>
<text x="675.00" y="297.40" font-size="10.4" text-anchor="start" font-weight="normal" fill="#111" stroke="#111" stroke-width="0.3">4</text>
<line x1="669.40" y1="281.00" x2="671.40" y2="281.00" stroke="#555555" stroke-width="1"/>
<line x1="668.40" y1="268.20" x2="671.40" y2="268.20" stroke="#555555" stroke-width="1"/>
<text x="675.00" y="271.80" font-size="10.4" text-anchor="start" font-weight="normal" fill="#111" stroke="#111" stroke-width="0.3">8</text>
<line x1="669.40" y1="255.40" x2="671.40" y2="255.40" stroke="#555555" stroke-width="1"/>
<line x1="668.40" y1="242.60" x2="671.40" y2="242.60" stroke="#555555" stroke-width="1"/>
<text x="675.00" y="246.20" font-size="10.4" text-anchor="start" font-weight="normal" fill="#111" stroke="#111" stroke-width="0.3">12</text>
<line x1="669.40" y1="229.80" x2="671.40" y2="229.80" stroke="#555555" stroke-width="1"/>
<line x1="668.40" y1="217.00" x2="671.40" y2="217.00" stroke="#555555" stroke-width="1"/>
<text x="675.00" y="220.60" font-size="10.4" text-anchor="start" font-weight="normal" fill="#111" stroke="#111" stroke-width="0.3">16</text>
<line x1="669.40" y1="204.20" x2="671.40" y2="204.20" stroke="#555555" stroke-width="1"/>
<line x1="668.40" y1="191.40" x2="671.40" y2="191.40" stroke="#555555" stroke-width="1"/>
<text x="675.00" y="195.00" font-size="10.4" text-anchor="start" font-weight="normal" fill="#111" stroke="#111" stroke-width="0.3">20</text>
<rect x="499.20" y="178.80" width="172.20" height="140.60" fill="none" stroke="#8c8c8c" stroke-width="1.4"/>
<text x="499.20" y="331.80" font-size="10.4" text-anchor="middle" font-weight="normal" fill="#111" stroke="#111" stroke-width="0.3">0.0</text>
<text x="530.60" y="331.80" font-size="10.4" text-anchor="middle" font-weight="normal" fill="#111" stroke="#111" stroke-width="0.3">0.2</text>
<text x="562.00" y="331.80" font-size="10.4" text-anchor="middle" font-weight="normal" fill="#111" stroke="#111" stroke-width="0.3">0.4</text>
<text x="593.40" y="331.80" font-size="10.4" text-anchor="middle" font-weight="normal" fill="#111" stroke="#111" stroke-width="0.3">0.6</text>
<text x="624.80" y="331.80" font-size="10.4" text-anchor="middle" font-weight="normal" fill="#111" stroke="#111" stroke-width="0.3">0.8</text>
<text x="656.20" y="331.80" font-size="10.4" text-anchor="middle" font-weight="normal" fill="#111" stroke="#111" stroke-width="0.3">1.0</text>
<text x="468.00" y="248.00" font-size="10.2" text-anchor="middle" font-weight="normal" fill="#111" stroke="#111" stroke-width="0.3" transform="rotate(-90 468.0 248.0)">Packet loss</text>
<text x="697.60" y="245.80" font-size="10.4" text-anchor="middle" font-weight="normal" fill="#111" stroke="#111" stroke-width="0.3" transform="rotate(-90 697.6 245.8)">Latency (μs)</text>
<text x="582.80" y="345.60" font-size="10.0" text-anchor="middle" font-weight="normal" fill="#111" stroke="#111" stroke-width="0.3">Load</text>
<text x="466.80" y="340.80" font-size="10.4" text-anchor="middle" font-weight="bold" fill="#111" stroke="#111" stroke-width="0.5">(f)</text>
<line x1="499.70" y1="249.80" x2="556.00" y2="249.80" stroke="#a8a04a" stroke-width="1.5" stroke-dasharray="3.4,3.1"/>
<line x1="593.00" y1="305.70" x2="670.60" y2="305.70" stroke="#a8a04a" stroke-width="1.5" stroke-dasharray="3.4,3.1"/>
<polyline points="514.90,305.50 530.60,305.50 546.30,305.50 562.00,305.50 577.70,306.20 593.40,302.30 609.10,295.40 624.80,282.00 640.50,261.60 656.20,240.50" fill="none" stroke="#333333" stroke-width="1.2" stroke-linejoin="round"/>
<path d="M514.90 308.20L517.60 303.48L512.20 303.48Z" fill="#333333"/>
<path d="M530.60 308.20L533.30 303.48L527.90 303.48Z" fill="#333333"/>
<path d="M546.30 308.20L549.00 303.48L543.60 303.48Z" fill="#333333"/>
<path d="M562.00 308.20L564.70 303.48L559.30 303.48Z" fill="#333333"/>
<path d="M577.70 308.90L580.40 304.18L575.00 304.18Z" fill="#333333"/>
<path d="M593.40 305.00L596.10 300.28L590.70 300.28Z" fill="#333333"/>
<path d="M609.10 298.10L611.80 293.38L606.40 293.38Z" fill="#333333"/>
<path d="M624.80 284.70L627.50 279.98L622.10 279.98Z" fill="#333333"/>
<path d="M640.50 264.30L643.20 259.58L637.80 259.58Z" fill="#333333"/>
<path d="M656.20 243.20L658.90 238.47L653.50 238.47Z" fill="#333333"/>
<polyline points="514.90,307.30 530.60,307.30 546.30,307.30 562.00,307.30 577.70,305.00 593.40,299.40 609.10,289.60 624.80,274.50 640.50,253.50 656.20,227.50" fill="none" stroke="#f5801f" stroke-width="1.2" stroke-linejoin="round"/>
<rect x="513.05" y="305.45" width="3.69" height="3.69" fill="#f5801f"/>
<rect x="528.75" y="305.45" width="3.69" height="3.69" fill="#f5801f"/>
<rect x="544.45" y="305.45" width="3.69" height="3.69" fill="#f5801f"/>
<rect x="560.15" y="305.45" width="3.69" height="3.69" fill="#f5801f"/>
<rect x="575.86" y="303.15" width="3.69" height="3.69" fill="#f5801f"/>
<rect x="591.55" y="297.55" width="3.69" height="3.69" fill="#f5801f"/>
<rect x="607.25" y="287.75" width="3.69" height="3.69" fill="#f5801f"/>
<rect x="622.95" y="272.65" width="3.69" height="3.69" fill="#f5801f"/>
<rect x="638.65" y="251.66" width="3.69" height="3.69" fill="#f5801f"/>
<rect x="654.36" y="225.66" width="3.69" height="3.69" fill="#f5801f"/>
<polyline points="514.90,306.30 530.60,306.30 546.30,306.30 562.00,306.30 577.70,303.80 593.40,295.30 609.10,283.80 624.80,267.20 640.50,242.70 656.20,215.10" fill="none" stroke="#d40a12" stroke-width="1.2" stroke-linejoin="round"/>
<circle cx="514.90" cy="306.30" r="2.25" fill="#d40a12"/>
<circle cx="530.60" cy="306.30" r="2.25" fill="#d40a12"/>
<circle cx="546.30" cy="306.30" r="2.25" fill="#d40a12"/>
<circle cx="562.00" cy="306.30" r="2.25" fill="#d40a12"/>
<circle cx="577.70" cy="303.80" r="2.25" fill="#d40a12"/>
<circle cx="593.40" cy="295.30" r="2.25" fill="#d40a12"/>
<circle cx="609.10" cy="283.80" r="2.25" fill="#d40a12"/>
<circle cx="624.80" cy="267.20" r="2.25" fill="#d40a12"/>
<circle cx="640.50" cy="242.70" r="2.25" fill="#d40a12"/>
<circle cx="656.20" cy="215.10" r="2.25" fill="#d40a12"/>
<polyline points="514.90,304.60 530.60,304.60 546.30,304.60 562.00,304.70 577.70,298.60 593.40,290.30 609.10,276.90 624.80,256.30 640.50,232.70 656.20,201.60" fill="none" stroke="#0f7f80" stroke-width="1.2" stroke-linejoin="round"/>
<path d="M514.90 301.90L517.60 306.62L512.20 306.62Z" fill="#0f7f80"/>
<path d="M530.60 301.90L533.30 306.62L527.90 306.62Z" fill="#0f7f80"/>
<path d="M546.30 301.90L549.00 306.62L543.60 306.62Z" fill="#0f7f80"/>
<path d="M562.00 302.00L564.70 306.72L559.30 306.72Z" fill="#0f7f80"/>
<path d="M577.70 295.90L580.40 300.62L575.00 300.62Z" fill="#0f7f80"/>
<path d="M593.40 287.60L596.10 292.32L590.70 292.32Z" fill="#0f7f80"/>
<path d="M609.10 274.20L611.80 278.92L606.40 278.92Z" fill="#0f7f80"/>
<path d="M624.80 253.60L627.50 258.32L622.10 258.32Z" fill="#0f7f80"/>
<path d="M640.50 230.00L643.20 234.72L637.80 234.72Z" fill="#0f7f80"/>
<path d="M656.20 198.90L658.90 203.62L653.50 203.62Z" fill="#0f7f80"/>
<polyline points="514.90,308.60 530.60,308.60 546.30,308.60 562.00,308.60 577.70,308.00 593.40,305.70 609.10,300.50 624.80,288.00 640.50,272.20 656.20,252.70" fill="none" stroke="#3a5fa8" stroke-width="1.2" stroke-linejoin="round"/>
<path d="M517.42 308.60L513.01 306.08L513.01 311.12Z" fill="#3a5fa8"/>
<path d="M533.12 308.60L528.71 306.08L528.71 311.12Z" fill="#3a5fa8"/>
<path d="M548.82 308.60L544.41 306.08L544.41 311.12Z" fill="#3a5fa8"/>
<path d="M564.52 308.60L560.11 306.08L560.11 311.12Z" fill="#3a5fa8"/>
<path d="M580.22 308.00L575.81 305.48L575.81 310.52Z" fill="#3a5fa8"/>
<path d="M595.92 305.70L591.51 303.18L591.51 308.22Z" fill="#3a5fa8"/>
<path d="M611.62 300.50L607.21 297.98L607.21 303.02Z" fill="#3a5fa8"/>
<path d="M627.32 288.00L622.91 285.48L622.91 290.52Z" fill="#3a5fa8"/>
<path d="M643.02 272.20L638.61 269.68L638.61 274.72Z" fill="#3a5fa8"/>
<path d="M658.72 252.70L654.31 250.18L654.31 255.22Z" fill="#3a5fa8"/>
<polyline points="514.90,308.60 530.60,308.60 546.30,308.60 562.00,308.60 577.70,308.00 593.40,305.70 609.10,300.50 624.80,288.00 640.50,272.20 656.20,252.70" fill="none" stroke="#c03caa" stroke-width="1.0" stroke-linejoin="round" stroke-dasharray="2.5,1.5"/>
<path d="M512.94 308.60L516.37 306.64L516.37 310.56Z" fill="#c03caa"/>
<path d="M528.64 308.60L532.07 306.64L532.07 310.56Z" fill="#c03caa"/>
<path d="M544.34 308.60L547.77 306.64L547.77 310.56Z" fill="#c03caa"/>
<path d="M560.04 308.60L563.47 306.64L563.47 310.56Z" fill="#c03caa"/>
<path d="M575.74 308.00L579.17 306.04L579.17 309.96Z" fill="#c03caa"/>
<path d="M591.44 305.70L594.87 303.74L594.87 307.66Z" fill="#c03caa"/>
<path d="M607.14 300.50L610.57 298.54L610.57 302.46Z" fill="#c03caa"/>
<path d="M622.84 288.00L626.27 286.04L626.27 289.96Z" fill="#c03caa"/>
<path d="M638.54 272.20L641.97 270.24L641.97 274.16Z" fill="#c03caa"/>
<path d="M654.24 252.70L657.67 250.74L657.67 254.66Z" fill="#c03caa"/>
<polyline points="546.30,311.80 562.00,262.90 577.70,212.40 593.40,200.60 609.10,193.50 624.80,188.80 640.50,186.20 656.20,184.60" fill="none" stroke="#333333" stroke-width="1.2" stroke-linejoin="round"/>
<path d="M546.30 314.50L549.00 309.78L543.60 309.78Z" fill="#333333"/>
<path d="M562.00 265.60L564.70 260.88L559.30 260.88Z" fill="#333333"/>
<path d="M577.70 215.10L580.40 210.38L575.00 210.38Z" fill="#333333"/>
<path d="M593.40 203.30L596.10 198.57L590.70 198.57Z" fill="#333333"/>
<path d="M609.10 196.20L611.80 191.47L606.40 191.47Z" fill="#333333"/>
<path d="M624.80 191.50L627.50 186.78L622.10 186.78Z" fill="#333333"/>
<path d="M640.50 188.90L643.20 184.17L637.80 184.17Z" fill="#333333"/>
<path d="M656.20 187.30L658.90 182.57L653.50 182.57Z" fill="#333333"/>
<polyline points="546.30,298.00 562.00,251.50 577.70,207.80 593.40,198.30 609.10,192.50 624.80,188.50 640.50,186.00 656.20,184.50" fill="none" stroke="#f5801f" stroke-width="1.2" stroke-linejoin="round"/>
<rect x="544.45" y="296.15" width="3.69" height="3.69" fill="#f5801f"/>
<rect x="560.15" y="249.66" width="3.69" height="3.69" fill="#f5801f"/>
<rect x="575.86" y="205.96" width="3.69" height="3.69" fill="#f5801f"/>
<rect x="591.55" y="196.46" width="3.69" height="3.69" fill="#f5801f"/>
<rect x="607.25" y="190.66" width="3.69" height="3.69" fill="#f5801f"/>
<rect x="622.95" y="186.66" width="3.69" height="3.69" fill="#f5801f"/>
<rect x="638.65" y="184.16" width="3.69" height="3.69" fill="#f5801f"/>
<rect x="654.36" y="182.66" width="3.69" height="3.69" fill="#f5801f"/>
<polyline points="546.30,287.40 562.00,243.00 577.70,203.60 593.40,196.40 609.10,191.50 624.80,188.00 640.50,185.80 656.20,184.50" fill="none" stroke="#d40a12" stroke-width="1.2" stroke-linejoin="round"/>
<circle cx="546.30" cy="287.40" r="2.25" fill="#d40a12"/>
<circle cx="562.00" cy="243.00" r="2.25" fill="#d40a12"/>
<circle cx="577.70" cy="203.60" r="2.25" fill="#d40a12"/>
<circle cx="593.40" cy="196.40" r="2.25" fill="#d40a12"/>
<circle cx="609.10" cy="191.50" r="2.25" fill="#d40a12"/>
<circle cx="624.80" cy="188.00" r="2.25" fill="#d40a12"/>
<circle cx="640.50" cy="185.80" r="2.25" fill="#d40a12"/>
<circle cx="656.20" cy="184.50" r="2.25" fill="#d40a12"/>
<polyline points="546.30,272.40 562.00,236.60 577.70,199.40 593.40,194.10 609.10,190.50 624.80,187.10 640.50,185.60 656.20,184.50" fill="none" stroke="#0f7f80" stroke-width="1.2" stroke-linejoin="round"/>
<path d="M546.30 269.70L549.00 274.42L543.60 274.42Z" fill="#0f7f80"/>
<path d="M562.00 233.90L564.70 238.62L559.30 238.62Z" fill="#0f7f80"/>
<path d="M577.70 196.70L580.40 201.43L575.00 201.43Z" fill="#0f7f80"/>
<path d="M593.40 191.40L596.10 196.12L590.70 196.12Z" fill="#0f7f80"/>
<path d="M609.10 187.80L611.80 192.53L606.40 192.53Z" fill="#0f7f80"/>
<path d="M624.80 184.40L627.50 189.12L622.10 189.12Z" fill="#0f7f80"/>
<path d="M640.50 182.90L643.20 187.62L637.80 187.62Z" fill="#0f7f80"/>
<path d="M656.20 181.80L658.90 186.53L653.50 186.53Z" fill="#0f7f80"/>
<polyline points="562.00,275.80 577.70,217.50 593.40,204.50 609.10,195.20 624.80,189.20 640.50,186.50 656.20,184.80" fill="none" stroke="#3a5fa8" stroke-width="1.2" stroke-linejoin="round"/>
<path d="M564.52 275.80L560.11 273.28L560.11 278.32Z" fill="#3a5fa8"/>
<path d="M580.22 217.50L575.81 214.98L575.81 220.02Z" fill="#3a5fa8"/>
<path d="M595.92 204.50L591.51 201.98L591.51 207.02Z" fill="#3a5fa8"/>
<path d="M611.62 195.20L607.21 192.68L607.21 197.72Z" fill="#3a5fa8"/>
<path d="M627.32 189.20L622.91 186.68L622.91 191.72Z" fill="#3a5fa8"/>
<path d="M643.02 186.50L638.61 183.98L638.61 189.02Z" fill="#3a5fa8"/>
<path d="M658.72 184.80L654.31 182.28L654.31 187.32Z" fill="#3a5fa8"/>
<polyline points="562.00,275.80 577.70,217.50 593.40,204.50 609.10,195.20 624.80,189.20 640.50,186.50 656.20,184.80" fill="none" stroke="#c03caa" stroke-width="1.0" stroke-linejoin="round" stroke-dasharray="2.5,1.5"/>
<path d="M560.04 275.80L563.47 273.84L563.47 277.76Z" fill="#c03caa"/>
<path d="M575.74 217.50L579.17 215.54L579.17 219.46Z" fill="#c03caa"/>
<path d="M591.44 204.50L594.87 202.54L594.87 206.46Z" fill="#c03caa"/>
<path d="M607.14 195.20L610.57 193.24L610.57 197.16Z" fill="#c03caa"/>
<path d="M622.84 189.20L626.27 187.24L626.27 191.16Z" fill="#c03caa"/>
<path d="M638.54 186.50L641.97 184.54L641.97 188.46Z" fill="#c03caa"/>
<path d="M654.24 184.80L657.67 182.84L657.67 186.76Z" fill="#c03caa"/>
<ellipse cx="562.0" cy="257.0" rx="4.4" ry="24.5" fill="none" stroke="#a8a04a" stroke-width="1.1"/>
<ellipse cx="562.0" cy="305.2" rx="5.4" ry="7.2" fill="none" stroke="#a8a04a" stroke-width="1.1"/>
<rect x="502.5" y="179.7" width="51.0" height="56.3" fill="#fff" stroke="#bdbdbd" stroke-width="0.9"/>
<line x1="506.60" y1="184.80" x2="513.20" y2="184.80" stroke="#333333" stroke-width="1.2"/>
<line x1="518.20" y1="184.80" x2="524.60" y2="184.80" stroke="#333333" stroke-width="1.2"/>
<path d="M515.80 187.50L518.50 182.78L513.10 182.78Z" fill="#333333"/>
<text x="526.50" y="187.70" font-size="8.0" text-anchor="start" font-weight="normal" fill="#111" stroke="#111" stroke-width="0.3">2560</text>
<line x1="506.60" y1="194.30" x2="513.20" y2="194.30" stroke="#f5801f" stroke-width="1.2"/>
<line x1="518.20" y1="194.30" x2="524.60" y2="194.30" stroke="#f5801f" stroke-width="1.2"/>
<rect x="513.95" y="192.46" width="3.69" height="3.69" fill="#f5801f"/>
<text x="526.50" y="197.20" font-size="8.0" text-anchor="start" font-weight="normal" fill="#111" stroke="#111" stroke-width="0.3">10240</text>
<line x1="506.60" y1="204.10" x2="513.20" y2="204.10" stroke="#d40a12" stroke-width="1.2"/>
<line x1="518.20" y1="204.10" x2="524.60" y2="204.10" stroke="#d40a12" stroke-width="1.2"/>
<circle cx="515.80" cy="204.10" r="2.25" fill="#d40a12"/>
<text x="526.50" y="207.00" font-size="8.0" text-anchor="start" font-weight="normal" fill="#111" stroke="#111" stroke-width="0.3">23040</text>
<line x1="506.60" y1="213.50" x2="513.20" y2="213.50" stroke="#0f7f80" stroke-width="1.2"/>
<line x1="518.20" y1="213.50" x2="524.60" y2="213.50" stroke="#0f7f80" stroke-width="1.2"/>
<path d="M515.80 210.80L518.50 215.53L513.10 215.53Z" fill="#0f7f80"/>
<text x="526.50" y="216.40" font-size="8.0" text-anchor="start" font-weight="normal" fill="#111" stroke="#111" stroke-width="0.3">40960</text>
<line x1="506.60" y1="222.80" x2="513.20" y2="222.80" stroke="#3a5fa8" stroke-width="1.2"/>
<line x1="518.20" y1="222.80" x2="524.60" y2="222.80" stroke="#3a5fa8" stroke-width="1.2"/>
<path d="M518.32 222.80L513.91 220.28L513.91 225.32Z" fill="#23407a"/>
<text x="526.50" y="225.70" font-size="8.0" text-anchor="start" font-weight="normal" fill="#111" stroke="#111" stroke-width="0.3">24-Sim</text>
<line x1="506.60" y1="232.20" x2="513.00" y2="232.20" stroke="#c03caa" stroke-width="1.1" stroke-dasharray="2.2,2.6"/>
<line x1="518.60" y1="232.20" x2="524.60" y2="232.20" stroke="#c03caa" stroke-width="1.1" stroke-dasharray="2.2,2.6"/>
<path d="M513.28 232.20L517.69 229.68L517.69 234.72Z" fill="#c03caa"/>
<text x="526.50" y="235.10" font-size="8.0" text-anchor="start" font-weight="normal" fill="#111" stroke="#111" stroke-width="0.3">24-Exp</text>
</svg></body></html>
